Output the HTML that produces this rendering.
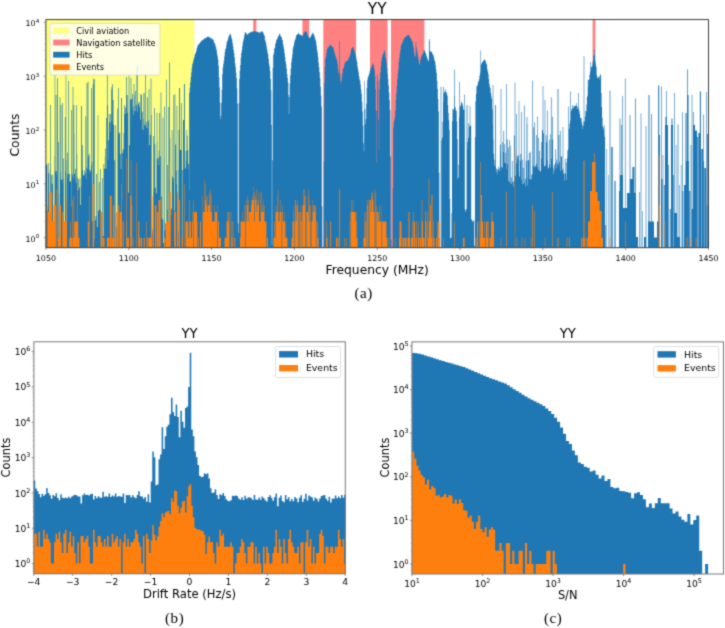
<!DOCTYPE html>
<html><head><meta charset="utf-8"><title>YY</title>
<style>html,body{margin:0;padding:0;background:#fff}svg{display:block;font-family:'DejaVu Sans','Liberation Sans',sans-serif;fill:#000}</style>
</head><body>
<svg width="725" height="628" viewBox="0 0 725 628">
<defs><filter id="soft" x="0" y="0" width="725" height="628" filterUnits="userSpaceOnUse" color-interpolation-filters="sRGB"><feConvolveMatrix order="3" kernelMatrix="1 3 1 3 14 3 1 3 1" divisor="30" edgeMode="duplicate" preserveAlpha="true"/></filter></defs>
<g filter="url(#soft)">
<rect width="725" height="628" fill="#fff"/>
<rect x="45.9" y="19.3" width="148.5" height="228.4" fill="#ffff80"/>
<rect x="253.2" y="19.3" width="3.2" height="228.4" fill="#ff8080"/>
<rect x="302.4" y="19.3" width="6.8" height="228.4" fill="#ff8080"/>
<rect x="323.3" y="19.3" width="32.8" height="228.4" fill="#ff8080"/>
<rect x="370" y="19.3" width="17.6" height="228.4" fill="#ff8080"/>
<rect x="391" y="19.3" width="33.4" height="228.4" fill="#ff8080"/>
<rect x="592.6" y="19.3" width="2.8" height="228.4" fill="#ff8080"/>
<clipPath id="ca"><rect x="45.9" y="19.3" width="662.6" height="228.4"/></clipPath>
<g clip-path="url(#ca)">
<path d="M188.68 189.88h0.65V247.7h-0.65zM189.18 92.73h0.65V247.7h-0.65zM189.68 87.4h0.65V247.7h-0.65zM190.18 82.36h0.65V247.7h-0.65zM190.68 77.08h0.65V247.7h-0.65zM191.18 72.4h0.65V247.7h-0.65zM191.68 68h0.65V247.7h-0.65zM192.18 64.27h0.65V247.7h-0.65zM192.68 62.72h0.65V247.7h-0.65zM193.18 60.53h0.65V247.7h-0.65zM193.68 58.76h0.65V247.7h-0.65zM194.18 56.83h0.65V247.7h-0.65zM194.68 54.17h0.65V247.7h-0.65zM195.18 53.63h0.65V247.7h-0.65zM195.68 51.98h0.65V247.7h-0.65zM196.18 50.47h0.65V247.7h-0.65zM196.68 47.99h0.65V247.7h-0.65zM197.18 46.47h0.65V247.7h-0.65zM197.68 45.35h0.65V247.7h-0.65zM198.18 44.48h0.65V247.7h-0.65zM198.68 44.2h0.65V247.7h-0.65zM199.18 43.42h0.65V247.7h-0.65zM199.68 43.05h0.65V247.7h-0.65zM200.18 41.9h0.65V247.7h-0.65zM200.68 41.7h0.65V247.7h-0.65zM201.18 41.11h0.65V247.7h-0.65zM201.68 40.01h0.65V247.7h-0.65zM202.18 40.63h0.65V247.7h-0.65zM202.68 39.83h0.65V247.7h-0.65zM203.18 39.83h0.65V247.7h-0.65zM203.68 38.73h0.65V247.7h-0.65zM204.18 38.39h0.65V247.7h-0.65zM204.68 38.29h0.65V247.7h-0.65zM205.18 38.11h0.65V247.7h-0.65zM205.68 38.16h0.65V247.7h-0.65zM206.18 37.7h0.65V247.7h-0.65zM206.68 37.11h0.65V247.7h-0.65zM207.18 36.59h0.65V247.7h-0.65zM207.68 36.51h0.65V247.7h-0.65zM208.18 37.32h0.65V247.7h-0.65zM208.68 36.75h0.65V247.7h-0.65zM209.18 37.56h0.65V247.7h-0.65zM209.68 37.98h0.65V247.7h-0.65zM210.18 37.46h0.65V247.7h-0.65zM210.68 38.49h0.65V247.7h-0.65zM211.18 39.4h0.65V247.7h-0.65zM211.68 38.24h0.65V247.7h-0.65zM212.18 39.35h0.65V247.7h-0.65zM212.68 39.78h0.65V247.7h-0.65zM213.18 40.3h0.65V247.7h-0.65zM213.68 42.22h0.65V247.7h-0.65zM214.18 43.31h0.65V247.7h-0.65zM214.68 44.01h0.65V247.7h-0.65zM215.18 46.37h0.65V247.7h-0.65zM215.68 47.63h0.65V247.7h-0.65zM216.18 50.05h0.65V247.7h-0.65zM216.68 53.52h0.65V247.7h-0.65zM217.18 56.29h0.65V247.7h-0.65zM217.68 59.43h0.65V247.7h-0.65zM218.18 65.77h0.65V247.7h-0.65zM218.68 77.35h0.65V247.7h-0.65zM219.18 87.51h0.65V247.7h-0.65zM219.68 102.7h0.65V247.7h-0.65zM220.18 119.33h0.65V247.7h-0.65zM220.68 115.81h0.65V247.7h-0.65zM221.18 102.8h0.65V247.7h-0.65zM221.68 89.69h0.65V247.7h-0.65zM222.18 74.26h0.65V247.7h-0.65zM222.68 67.54h0.65V247.7h-0.65zM223.18 64.31h0.65V247.7h-0.65zM223.68 60.85h0.65V247.7h-0.65zM224.18 56.46h0.65V247.7h-0.65zM224.68 52.26h0.65V247.7h-0.65zM225.18 49.29h0.65V247.7h-0.65zM225.68 47.89h0.65V247.7h-0.65zM226.18 44.71h0.65V247.7h-0.65zM226.68 41.84h0.65V247.7h-0.65zM227.18 40.74h0.65V247.7h-0.65zM227.68 39.4h0.65V247.7h-0.65zM228.18 37.57h0.65V247.7h-0.65zM228.68 36.21h0.65V247.7h-0.65zM229.18 34.9h0.65V247.7h-0.65zM229.68 34.02h0.65V247.7h-0.65zM230.18 33.96h0.65V247.7h-0.65zM230.68 36.08h0.65V247.7h-0.65zM231.18 38.26h0.65V247.7h-0.65zM231.68 39.48h0.65V247.7h-0.65zM232.18 42.93h0.65V247.7h-0.65zM232.68 46.23h0.65V247.7h-0.65zM233.18 50.04h0.65V247.7h-0.65zM233.68 52.91h0.65V247.7h-0.65zM234.18 57.51h0.65V247.7h-0.65zM234.68 62.88h0.65V247.7h-0.65zM235.18 66.68h0.65V247.7h-0.65zM235.68 72.42h0.65V247.7h-0.65zM236.18 77.96h0.65V247.7h-0.65zM236.68 88.27h0.65V247.7h-0.65zM237.18 103.68h0.65V247.7h-0.65zM237.68 223.58h0.65V247.7h-0.65zM238.18 232.93h0.65V247.7h-0.65zM238.68 103.15h0.65V247.7h-0.65zM239.18 79.04h0.65V247.7h-0.65zM239.68 70.68h0.65V247.7h-0.65zM240.18 64.89h0.65V247.7h-0.65zM240.68 57.83h0.65V247.7h-0.65zM241.18 53.06h0.65V247.7h-0.65zM241.68 50.22h0.65V247.7h-0.65zM242.18 46.26h0.65V247.7h-0.65zM242.68 42.35h0.65V247.7h-0.65zM243.18 40.3h0.65V247.7h-0.65zM243.68 38.28h0.65V247.7h-0.65zM244.18 35.17h0.65V247.7h-0.65zM244.68 32.5h0.65V247.7h-0.65zM245.18 32.31h0.65V247.7h-0.65zM245.68 33.06h0.65V247.7h-0.65zM246.18 33.74h0.65V247.7h-0.65zM246.68 35.26h0.65V247.7h-0.65zM247.18 34.29h0.65V247.7h-0.65zM247.68 34.82h0.65V247.7h-0.65zM248.18 33.18h0.65V247.7h-0.65zM248.68 32.9h0.65V247.7h-0.65zM249.18 33.03h0.65V247.7h-0.65zM249.68 32.76h0.65V247.7h-0.65zM250.18 32.34h0.65V247.7h-0.65zM250.68 32.01h0.65V247.7h-0.65zM251.18 31.81h0.65V247.7h-0.65zM251.68 31.72h0.65V247.7h-0.65zM252.18 31.81h0.65V247.7h-0.65zM252.68 31.37h0.65V247.7h-0.65zM253.18 31.47h0.65V247.7h-0.65zM253.68 31.51h0.65V247.7h-0.65zM254.18 31.15h0.65V247.7h-0.65zM254.68 31.39h0.65V247.7h-0.65zM255.18 31.35h0.65V247.7h-0.65zM255.68 32.2h0.65V247.7h-0.65zM256.18 31.65h0.65V247.7h-0.65zM256.68 31.51h0.65V247.7h-0.65zM257.18 31.73h0.65V247.7h-0.65zM257.68 32.09h0.65V247.7h-0.65zM258.18 32.72h0.65V247.7h-0.65zM258.68 32.35h0.65V247.7h-0.65zM259.18 32.87h0.65V247.7h-0.65zM259.68 33.73h0.65V247.7h-0.65zM260.18 31.6h0.65V247.7h-0.65zM260.68 31.74h0.65V247.7h-0.65zM261.18 31.86h0.65V247.7h-0.65zM261.68 31.43h0.65V247.7h-0.65zM262.18 31.61h0.65V247.7h-0.65zM262.68 32.31h0.65V247.7h-0.65zM263.18 33.79h0.65V247.7h-0.65zM263.68 34.63h0.65V247.7h-0.65zM264.18 36.02h0.65V247.7h-0.65zM264.68 39.84h0.65V247.7h-0.65zM265.18 41.41h0.65V247.7h-0.65zM265.68 43.5h0.65V247.7h-0.65zM266.18 46.46h0.65V247.7h-0.65zM266.68 49.4h0.65V247.7h-0.65zM267.18 52.47h0.65V247.7h-0.65zM267.68 54.27h0.65V247.7h-0.65zM268.18 58.78h0.65V247.7h-0.65zM268.68 63.45h0.65V247.7h-0.65zM269.18 66.47h0.65V247.7h-0.65zM269.68 70.97h0.65V247.7h-0.65zM270.18 79.05h0.65V247.7h-0.65zM270.68 90.26h0.65V247.7h-0.65zM271.18 125h0.65V247.7h-0.65zM271.68 245.23h0.65V247.7h-0.65zM272.18 160.34h0.65V247.7h-0.65zM272.68 67.7h0.65V247.7h-0.65zM273.18 55.03h0.65V247.7h-0.65zM273.68 52.74h0.65V247.7h-0.65zM274.18 48.54h0.65V247.7h-0.65zM274.68 47.74h0.65V247.7h-0.65zM275.18 44.1h0.65V247.7h-0.65zM275.68 42.56h0.65V247.7h-0.65zM276.18 39.77h0.65V247.7h-0.65zM276.68 39.4h0.65V247.7h-0.65zM277.18 38.74h0.65V247.7h-0.65zM277.68 37.02h0.65V247.7h-0.65zM278.18 36.06h0.65V247.7h-0.65zM278.68 35.21h0.65V247.7h-0.65zM279.18 33.8h0.65V247.7h-0.65zM279.68 34.11h0.65V247.7h-0.65zM280.18 35.92h0.65V247.7h-0.65zM280.68 36.78h0.65V247.7h-0.65zM281.18 37.25h0.65V247.7h-0.65zM281.68 39.7h0.65V247.7h-0.65zM282.18 39.98h0.65V247.7h-0.65zM282.68 43.91h0.65V247.7h-0.65zM283.18 46.38h0.65V247.7h-0.65zM283.68 49.56h0.65V247.7h-0.65zM284.18 53.32h0.65V247.7h-0.65zM284.68 57.1h0.65V247.7h-0.65zM285.18 61.29h0.65V247.7h-0.65zM285.68 64.31h0.65V247.7h-0.65zM286.18 68.57h0.65V247.7h-0.65zM286.68 74.03h0.65V247.7h-0.65zM287.18 77.82h0.65V247.7h-0.65zM287.68 82.29h0.65V247.7h-0.65zM288.18 95.05h0.65V247.7h-0.65zM288.68 113.9h0.65V247.7h-0.65zM289.18 97h0.65V247.7h-0.65zM289.68 83.52h0.65V247.7h-0.65zM290.18 75.29h0.65V247.7h-0.65zM290.68 68.57h0.65V247.7h-0.65zM291.18 62.24h0.65V247.7h-0.65zM291.68 58.59h0.65V247.7h-0.65zM292.18 54.47h0.65V247.7h-0.65zM292.68 48.85h0.65V247.7h-0.65zM293.18 46.79h0.65V247.7h-0.65zM293.68 44.69h0.65V247.7h-0.65zM294.18 42.34h0.65V247.7h-0.65zM294.68 39.7h0.65V247.7h-0.65zM295.18 39.38h0.65V247.7h-0.65zM295.68 36.87h0.65V247.7h-0.65zM296.18 35.35h0.65V247.7h-0.65zM296.68 35.05h0.65V247.7h-0.65zM297.18 34.31h0.65V247.7h-0.65zM297.68 34.05h0.65V247.7h-0.65zM298.18 32.73h0.65V247.7h-0.65zM298.68 34.07h0.65V247.7h-0.65zM299.18 34.61h0.65V247.7h-0.65zM299.68 34.97h0.65V247.7h-0.65zM300.18 34.61h0.65V247.7h-0.65zM300.68 34.73h0.65V247.7h-0.65zM301.18 35.9h0.65V247.7h-0.65zM301.68 35.86h0.65V247.7h-0.65zM302.18 35.71h0.65V247.7h-0.65zM302.68 35.6h0.65V247.7h-0.65zM303.18 34.15h0.65V247.7h-0.65zM303.68 32.54h0.65V247.7h-0.65zM304.18 32.7h0.65V247.7h-0.65zM304.68 31.35h0.65V247.7h-0.65zM305.18 31.85h0.65V247.7h-0.65zM305.68 31.45h0.65V247.7h-0.65zM306.18 32.06h0.65V247.7h-0.65zM306.68 33.36h0.65V247.7h-0.65zM307.18 34.77h0.65V247.7h-0.65zM307.68 35.46h0.65V247.7h-0.65zM308.18 37.05h0.65V247.7h-0.65zM308.68 37.46h0.65V247.7h-0.65zM309.18 38.16h0.65V247.7h-0.65zM309.68 37.73h0.65V247.7h-0.65zM310.18 37.16h0.65V247.7h-0.65zM310.68 35.51h0.65V247.7h-0.65zM311.18 35.58h0.65V247.7h-0.65zM311.68 33.72h0.65V247.7h-0.65zM312.18 33.45h0.65V247.7h-0.65zM312.68 32.43h0.65V247.7h-0.65zM313.18 34.25h0.65V247.7h-0.65zM313.68 34.75h0.65V247.7h-0.65zM314.18 36.84h0.65V247.7h-0.65zM314.68 38.3h0.65V247.7h-0.65zM315.18 39.91h0.65V247.7h-0.65zM315.68 41.78h0.65V247.7h-0.65zM316.18 45.66h0.65V247.7h-0.65zM316.68 49.86h0.65V247.7h-0.65zM317.18 52.57h0.65V247.7h-0.65zM317.68 56.86h0.65V247.7h-0.65zM318.18 62.49h0.65V247.7h-0.65zM318.68 67.37h0.65V247.7h-0.65zM319.18 72.31h0.65V247.7h-0.65zM319.68 78.04h0.65V247.7h-0.65zM320.18 86.66h0.65V247.7h-0.65zM320.68 95.79h0.65V247.7h-0.65zM321.18 106.62h0.65V247.7h-0.65zM321.68 206.35h0.65V247.7h-0.65zM322.18 247.36h0.65V247.7h-0.65zM322.68 247h0.65V247.7h-0.65zM323.18 247.36h0.65V247.7h-0.65zM323.68 161.45h0.65V247.7h-0.65zM324.18 83.22h0.65V247.7h-0.65zM324.68 67.08h0.65V247.7h-0.65zM325.18 59.21h0.65V247.7h-0.65zM325.68 56.92h0.65V247.7h-0.65zM326.18 53.25h0.65V247.7h-0.65zM326.68 50.09h0.65V247.7h-0.65zM327.18 48.32h0.65V247.7h-0.65zM327.68 47.31h0.65V247.7h-0.65zM328.18 47.28h0.65V247.7h-0.65zM328.68 46.14h0.65V247.7h-0.65zM329.18 46.16h0.65V247.7h-0.65zM329.68 44.27h0.65V247.7h-0.65zM330.18 45.4h0.65V247.7h-0.65zM330.68 45.46h0.65V247.7h-0.65zM331.18 45.38h0.65V247.7h-0.65zM331.68 47.08h0.65V247.7h-0.65zM332.18 47.13h0.65V247.7h-0.65zM332.68 46.75h0.65V247.7h-0.65zM333.18 48.48h0.65V247.7h-0.65zM333.68 50.76h0.65V247.7h-0.65zM334.18 52.17h0.65V247.7h-0.65zM334.68 54.48h0.65V247.7h-0.65zM335.18 56.09h0.65V247.7h-0.65zM335.68 57.55h0.65V247.7h-0.65zM336.18 58.9h0.65V247.7h-0.65zM336.68 60.85h0.65V247.7h-0.65zM337.18 63.8h0.65V247.7h-0.65zM337.68 68.7h0.65V247.7h-0.65zM338.18 72.56h0.65V247.7h-0.65zM338.68 76.72h0.65V247.7h-0.65zM339.18 72.42h0.65V247.7h-0.65zM339.68 73.37h0.65V247.7h-0.65zM340.18 81.29h0.65V247.7h-0.65zM340.68 84.04h0.65V247.7h-0.65zM341.18 80.89h0.65V247.7h-0.65zM341.68 77.25h0.65V247.7h-0.65zM342.18 73.48h0.65V247.7h-0.65zM342.68 69.37h0.65V247.7h-0.65zM343.18 68.37h0.65V247.7h-0.65zM343.68 67.18h0.65V247.7h-0.65zM344.18 64.54h0.65V247.7h-0.65zM344.68 63.12h0.65V247.7h-0.65zM345.18 62.24h0.65V247.7h-0.65zM345.68 61.09h0.65V247.7h-0.65zM346.18 61.13h0.65V247.7h-0.65zM346.68 60.97h0.65V247.7h-0.65zM347.18 60.87h0.65V247.7h-0.65zM347.68 60.15h0.65V247.7h-0.65zM348.18 59.29h0.65V247.7h-0.65zM348.68 57.67h0.65V247.7h-0.65zM349.18 56.71h0.65V247.7h-0.65zM349.68 56.03h0.65V247.7h-0.65zM350.18 53.92h0.65V247.7h-0.65zM350.68 51.24h0.65V247.7h-0.65zM351.18 49h0.65V247.7h-0.65zM351.68 48.33h0.65V247.7h-0.65zM352.18 47.03h0.65V247.7h-0.65zM352.68 47.85h0.65V247.7h-0.65zM353.18 47.44h0.65V247.7h-0.65zM353.68 49.93h0.65V247.7h-0.65zM354.18 50.9h0.65V247.7h-0.65zM354.68 53.29h0.65V247.7h-0.65zM355.18 54.91h0.65V247.7h-0.65zM355.68 56.88h0.65V247.7h-0.65zM356.18 59.86h0.65V247.7h-0.65zM356.68 62h0.65V247.7h-0.65zM357.18 66.59h0.65V247.7h-0.65zM357.68 69.52h0.65V247.7h-0.65zM358.18 72.18h0.65V247.7h-0.65zM358.68 76.1h0.65V247.7h-0.65zM359.18 79.31h0.65V247.7h-0.65zM359.68 80.87h0.65V247.7h-0.65zM360.18 84.84h0.65V247.7h-0.65zM360.68 89.56h0.65V247.7h-0.65zM361.18 93.8h0.65V247.7h-0.65zM361.68 101.82h0.65V247.7h-0.65zM362.18 111.56h0.65V247.7h-0.65zM362.68 125.45h0.65V247.7h-0.65zM363.18 143.3h0.65V247.7h-0.65zM363.68 151.46h0.65V247.7h-0.65zM364.18 139.56h0.65V247.7h-0.65zM364.68 109.27h0.65V247.7h-0.65zM365.18 124.45h0.65V247.7h-0.65zM365.68 119.32h0.65V247.7h-0.65zM366.18 103.86h0.65V247.7h-0.65zM366.68 88.11h0.65V247.7h-0.65zM367.18 80.24h0.65V247.7h-0.65zM367.68 77.4h0.65V247.7h-0.65zM368.18 76.29h0.65V247.7h-0.65zM368.68 74.85h0.65V247.7h-0.65zM369.18 73.36h0.65V247.7h-0.65zM369.68 71.05h0.65V247.7h-0.65zM370.18 69.57h0.65V247.7h-0.65zM370.68 68.08h0.65V247.7h-0.65zM371.18 66.67h0.65V247.7h-0.65zM371.68 65.79h0.65V247.7h-0.65zM372.18 64.59h0.65V247.7h-0.65zM372.68 63.35h0.65V247.7h-0.65zM373.18 64.92h0.65V247.7h-0.65zM373.68 67.71h0.65V247.7h-0.65zM374.18 70.44h0.65V247.7h-0.65zM374.68 76.4h0.65V247.7h-0.65zM375.18 88.95h0.65V247.7h-0.65zM375.68 110.45h0.65V247.7h-0.65zM376.18 163.07h0.65V247.7h-0.65zM376.68 111.12h0.65V247.7h-0.65zM377.18 74.48h0.65V247.7h-0.65zM377.68 80.94h0.65V247.7h-0.65zM378.18 119.43h0.65V247.7h-0.65zM378.68 150.19h0.65V247.7h-0.65zM379.18 89.35h0.65V247.7h-0.65zM379.68 79.27h0.65V247.7h-0.65zM380.18 72.56h0.65V247.7h-0.65zM380.68 66.42h0.65V247.7h-0.65zM381.18 61.14h0.65V247.7h-0.65zM381.68 57.86h0.65V247.7h-0.65zM382.18 55.88h0.65V247.7h-0.65zM382.68 53.88h0.65V247.7h-0.65zM383.18 53.63h0.65V247.7h-0.65zM383.68 51.81h0.65V247.7h-0.65zM384.18 50.12h0.65V247.7h-0.65zM384.68 52.72h0.65V247.7h-0.65zM385.18 57.02h0.65V247.7h-0.65zM385.68 59.27h0.65V247.7h-0.65zM386.18 62.88h0.65V247.7h-0.65zM386.68 68.16h0.65V247.7h-0.65zM387.18 73.73h0.65V247.7h-0.65zM387.68 79.15h0.65V247.7h-0.65zM388.18 85.44h0.65V247.7h-0.65zM388.68 92.45h0.65V247.7h-0.65zM389.18 100.32h0.65V247.7h-0.65zM389.68 109.99h0.65V247.7h-0.65zM390.18 156.52h0.65V247.7h-0.65zM390.68 239.49h0.65V247.7h-0.65zM392.18 246.51h0.65V247.7h-0.65zM392.68 188.43h0.65V247.7h-0.65zM393.18 127.41h0.65V247.7h-0.65zM393.68 122.01h0.65V247.7h-0.65zM394.18 119.77h0.65V247.7h-0.65zM394.68 116.7h0.65V247.7h-0.65zM395.18 110.41h0.65V247.7h-0.65zM395.68 99.9h0.65V247.7h-0.65zM396.18 93.02h0.65V247.7h-0.65zM396.68 86.18h0.65V247.7h-0.65zM397.18 79.28h0.65V247.7h-0.65zM397.68 73.33h0.65V247.7h-0.65zM398.18 68.74h0.65V247.7h-0.65zM398.68 61.7h0.65V247.7h-0.65zM399.18 57.64h0.65V247.7h-0.65zM399.68 54.19h0.65V247.7h-0.65zM400.18 50.25h0.65V247.7h-0.65zM400.68 46.22h0.65V247.7h-0.65zM401.18 44.5h0.65V247.7h-0.65zM401.68 43.41h0.65V247.7h-0.65zM402.18 42.59h0.65V247.7h-0.65zM402.68 41.27h0.65V247.7h-0.65zM403.18 39.76h0.65V247.7h-0.65zM403.68 38.97h0.65V247.7h-0.65zM404.18 38.06h0.65V247.7h-0.65zM404.68 37.53h0.65V247.7h-0.65zM405.18 37.09h0.65V247.7h-0.65zM405.68 36.58h0.65V247.7h-0.65zM406.18 36.62h0.65V247.7h-0.65zM406.68 35.46h0.65V247.7h-0.65zM407.18 35.28h0.65V247.7h-0.65zM407.68 35.19h0.65V247.7h-0.65zM408.18 34.67h0.65V247.7h-0.65zM408.68 35.8h0.65V247.7h-0.65zM409.18 35.76h0.65V247.7h-0.65zM409.68 37.03h0.65V247.7h-0.65zM410.18 38.26h0.65V247.7h-0.65zM410.68 38.92h0.65V247.7h-0.65zM411.18 39.73h0.65V247.7h-0.65zM411.68 41.15h0.65V247.7h-0.65zM412.18 42.11h0.65V247.7h-0.65zM412.68 45.07h0.65V247.7h-0.65zM413.18 47.38h0.65V247.7h-0.65zM413.68 51.92h0.65V247.7h-0.65zM414.18 55.32h0.65V247.7h-0.65zM414.68 56.92h0.65V247.7h-0.65zM415.18 56.18h0.65V247.7h-0.65zM415.68 51.73h0.65V247.7h-0.65zM416.18 47.42h0.65V247.7h-0.65zM416.68 50.6h0.65V247.7h-0.65zM417.18 53.52h0.65V247.7h-0.65zM417.68 56.57h0.65V247.7h-0.65zM418.18 59.78h0.65V247.7h-0.65zM418.68 64.04h0.65V247.7h-0.65zM419.18 65.27h0.65V247.7h-0.65zM419.68 62.97h0.65V247.7h-0.65zM420.18 60.12h0.65V247.7h-0.65zM420.68 58.26h0.65V247.7h-0.65zM421.18 56.53h0.65V247.7h-0.65zM421.68 55.54h0.65V247.7h-0.65zM422.18 54.4h0.65V247.7h-0.65zM422.68 53.59h0.65V247.7h-0.65zM423.18 52.27h0.65V247.7h-0.65zM423.68 49.99h0.65V247.7h-0.65zM424.18 50.4h0.65V247.7h-0.65zM424.68 51.4h0.65V247.7h-0.65zM425.18 52.64h0.65V247.7h-0.65zM425.68 54.34h0.65V247.7h-0.65zM426.18 55.88h0.65V247.7h-0.65zM426.68 57.85h0.65V247.7h-0.65zM427.18 58.66h0.65V247.7h-0.65zM427.68 60.57h0.65V247.7h-0.65zM428.18 61.43h0.65V247.7h-0.65zM428.68 60.24h0.65V247.7h-0.65zM429.18 41.03h0.65V247.7h-0.65zM429.68 51.8h0.65V247.7h-0.65zM430.18 51.16h0.65V247.7h-0.65zM430.68 51.48h0.65V247.7h-0.65zM431.18 51.78h0.65V247.7h-0.65zM431.68 52.84h0.65V247.7h-0.65zM432.18 53.82h0.65V247.7h-0.65zM432.68 55.3h0.65V247.7h-0.65zM433.18 55.65h0.65V247.7h-0.65zM433.68 58.18h0.65V247.7h-0.65zM434.18 60.39h0.65V247.7h-0.65zM434.68 61.45h0.65V247.7h-0.65zM435.18 65.23h0.65V247.7h-0.65zM435.68 69.49h0.65V247.7h-0.65zM436.18 73.09h0.65V247.7h-0.65zM436.68 80.72h0.65V247.7h-0.65zM437.18 89.03h0.65V247.7h-0.65zM437.68 98.96h0.65V247.7h-0.65zM438.18 111.53h0.65V247.7h-0.65zM438.68 172.73h0.65V247.7h-0.65zM45.9 163.74h0.66V247.7h-0.66zM46.56 164.95h0.66V247.7h-0.66zM47.23 210.45h0.66V247.7h-0.66zM47.89 163.12h0.66V247.7h-0.66zM48.55 173.17h0.66V247.7h-0.66zM49.21 246.57h0.66V247.7h-0.66zM49.88 169.81h0.66V247.7h-0.66zM51.2 175.01h0.66V247.7h-0.66zM51.86 183.68h0.66V247.7h-0.66zM52.53 174.55h0.66V247.7h-0.66zM53.19 223.96h0.66V247.7h-0.66zM53.85 234.28h0.66V247.7h-0.66zM54.51 156.25h0.66V247.7h-0.66zM55.18 171.22h0.66V247.7h-0.66zM55.84 171.12h0.66V247.7h-0.66zM56.5 174.61h0.66V247.7h-0.66zM57.16 197.09h0.66V247.7h-0.66zM57.83 241.47h0.66V247.7h-0.66zM58.49 193.39h0.66V247.7h-0.66zM59.15 212.36h0.66V247.7h-0.66zM59.81 178.67h0.66V247.7h-0.66zM60.48 172.14h0.66V247.7h-0.66zM61.14 180.07h0.66V247.7h-0.66zM61.8 180.2h0.66V247.7h-0.66zM62.46 178.64h0.66V247.7h-0.66zM63.13 183.24h0.66V247.7h-0.66zM63.79 231h0.66V247.7h-0.66zM64.45 246.96h0.66V247.7h-0.66zM65.11 171.22h0.66V247.7h-0.66zM65.78 160.56h0.66V247.7h-0.66zM66.44 232.07h0.66V247.7h-0.66zM67.1 177.18h0.66V247.7h-0.66zM67.76 173.95h0.66V247.7h-0.66zM68.42 99.13h0.66V247.7h-0.66zM69.09 173.63h0.66V247.7h-0.66zM69.75 181.96h0.66V247.7h-0.66zM70.41 181.1h0.66V247.7h-0.66zM71.07 206.51h0.66V247.7h-0.66zM71.74 173.73h0.66V247.7h-0.66zM72.4 176.18h0.66V247.7h-0.66zM73.06 179.58h0.66V247.7h-0.66zM73.72 134.03h0.66V247.7h-0.66zM74.39 173.7h0.66V247.7h-0.66zM75.05 178.15h0.66V247.7h-0.66zM75.71 183.04h0.66V247.7h-0.66zM76.37 181.91h0.66V247.7h-0.66zM77.04 177.41h0.66V247.7h-0.66zM77.7 190.36h0.66V247.7h-0.66zM78.36 179.27h0.66V247.7h-0.66zM79.02 187.44h0.66V247.7h-0.66zM79.69 178.17h0.66V247.7h-0.66zM80.35 205.07h0.66V247.7h-0.66zM81.01 186.43h0.66V247.7h-0.66zM81.67 170.16h0.66V247.7h-0.66zM82.34 145.24h0.66V247.7h-0.66zM83 174.69h0.66V247.7h-0.66zM83.66 175.66h0.66V247.7h-0.66zM84.32 170.53h0.66V247.7h-0.66zM84.99 173.19h0.66V247.7h-0.66zM85.65 179.55h0.66V247.7h-0.66zM86.31 167.55h0.66V247.7h-0.66zM86.97 169.05h0.66V247.7h-0.66zM87.64 158.93h0.66V247.7h-0.66zM88.3 156.08h0.66V247.7h-0.66zM88.96 173.61h0.66V247.7h-0.66zM89.62 169.82h0.66V247.7h-0.66zM90.29 171.27h0.66V247.7h-0.66zM90.95 165.3h0.66V247.7h-0.66zM91.61 161.73h0.66V247.7h-0.66zM92.27 221.36h0.66V247.7h-0.66zM92.94 217.27h0.66V247.7h-0.66zM93.6 239.3h0.66V247.7h-0.66zM94.26 216.54h0.66V247.7h-0.66zM94.92 220.26h0.66V247.7h-0.66zM95.59 215.92h0.66V247.7h-0.66zM96.25 174.09h0.66V247.7h-0.66zM96.91 227.08h0.66V247.7h-0.66zM97.57 172.8h0.66V247.7h-0.66zM98.24 210.63h0.66V247.7h-0.66zM98.9 182.23h0.66V247.7h-0.66zM99.56 209.86h0.66V247.7h-0.66zM100.22 168.95h0.66V247.7h-0.66zM100.89 236.73h0.66V247.7h-0.66zM101.55 246.47h0.66V247.7h-0.66zM102.21 178h0.66V247.7h-0.66zM102.87 235.89h0.66V247.7h-0.66zM103.54 163.89h0.66V247.7h-0.66zM104.2 168.84h0.66V247.7h-0.66zM104.86 156.42h0.66V247.7h-0.66zM105.52 168.41h0.66V247.7h-0.66zM106.19 117.95h0.66V247.7h-0.66zM106.85 168.9h0.66V247.7h-0.66zM107.51 160.08h0.66V247.7h-0.66zM108.17 152.24h0.66V247.7h-0.66zM108.84 114.09h0.66V247.7h-0.66zM109.5 122.41h0.66V247.7h-0.66zM110.16 131.71h0.66V247.7h-0.66zM110.82 121.31h0.66V247.7h-0.66zM111.49 142.51h0.66V247.7h-0.66zM112.15 122.37h0.66V247.7h-0.66zM112.81 100.06h0.66V247.7h-0.66zM113.47 124.73h0.66V247.7h-0.66zM114.14 160.18h0.66V247.7h-0.66zM115.46 214.12h0.66V247.7h-0.66zM116.12 226.46h0.66V247.7h-0.66zM116.79 213.21h0.66V247.7h-0.66zM117.45 108.61h0.66V247.7h-0.66zM118.11 131.94h0.66V247.7h-0.66zM118.77 133.85h0.66V247.7h-0.66zM119.44 132.2h0.66V247.7h-0.66zM120.1 154.12h0.66V247.7h-0.66zM120.76 169.12h0.66V247.7h-0.66zM121.42 199.79h0.66V247.7h-0.66zM122.09 153.27h0.66V247.7h-0.66zM122.75 148.97h0.66V247.7h-0.66zM123.41 151.48h0.66V247.7h-0.66zM124.07 105.15h0.66V247.7h-0.66zM124.74 113.97h0.66V247.7h-0.66zM125.4 107.41h0.66V247.7h-0.66zM126.06 110.19h0.66V247.7h-0.66zM126.72 105.04h0.66V247.7h-0.66zM127.39 112.65h0.66V247.7h-0.66zM128.05 192.72h0.66V247.7h-0.66zM128.71 103.25h0.66V247.7h-0.66zM129.37 145.34h0.66V247.7h-0.66zM130.04 99.21h0.66V247.7h-0.66zM130.7 107.39h0.66V247.7h-0.66zM131.36 125.25h0.66V247.7h-0.66zM132.02 109.74h0.66V247.7h-0.66zM132.69 106.33h0.66V247.7h-0.66zM133.35 115.09h0.66V247.7h-0.66zM134.01 106.98h0.66V247.7h-0.66zM134.67 111.2h0.66V247.7h-0.66zM135.34 105.05h0.66V247.7h-0.66zM136 104.75h0.66V247.7h-0.66zM136.66 106.71h0.66V247.7h-0.66zM137.32 111.61h0.66V247.7h-0.66zM137.99 103.99h0.66V247.7h-0.66zM138.65 113.35h0.66V247.7h-0.66zM139.31 106.54h0.66V247.7h-0.66zM139.97 119.85h0.66V247.7h-0.66zM140.64 113.17h0.66V247.7h-0.66zM141.3 95.12h0.66V247.7h-0.66zM141.96 111.51h0.66V247.7h-0.66zM142.62 129.71h0.66V247.7h-0.66zM143.29 118.96h0.66V247.7h-0.66zM143.95 124.71h0.66V247.7h-0.66zM144.61 125.37h0.66V247.7h-0.66zM145.27 121.55h0.66V247.7h-0.66zM145.94 122.05h0.66V247.7h-0.66zM146.6 127.91h0.66V247.7h-0.66zM147.26 97.35h0.66V247.7h-0.66zM147.92 131.39h0.66V247.7h-0.66zM148.59 147.68h0.66V247.7h-0.66zM149.25 145.05h0.66V247.7h-0.66zM149.91 134.97h0.66V247.7h-0.66zM150.57 131.22h0.66V247.7h-0.66zM151.24 240.03h0.66V247.7h-0.66zM151.9 228.55h0.66V247.7h-0.66zM152.56 232.59h0.66V247.7h-0.66zM153.22 230.42h0.66V247.7h-0.66zM153.89 188.79h0.66V247.7h-0.66zM154.55 162.97h0.66V247.7h-0.66zM155.21 187.68h0.66V247.7h-0.66zM155.87 193.42h0.66V247.7h-0.66zM156.54 158.55h0.66V247.7h-0.66zM157.2 159.14h0.66V247.7h-0.66zM157.86 157.79h0.66V247.7h-0.66zM158.52 165.29h0.66V247.7h-0.66zM159.19 164.93h0.66V247.7h-0.66zM159.85 156.18h0.66V247.7h-0.66zM160.51 208.78h0.66V247.7h-0.66zM161.17 196.61h0.66V247.7h-0.66zM161.84 218.72h0.66V247.7h-0.66zM162.5 220.35h0.66V247.7h-0.66zM163.16 242.88h0.66V247.7h-0.66zM163.82 220.02h0.66V247.7h-0.66zM164.49 230.47h0.66V247.7h-0.66zM165.15 223.15h0.66V247.7h-0.66zM166.47 244.36h0.66V247.7h-0.66zM167.14 209.59h0.66V247.7h-0.66zM167.8 247h0.66V247.7h-0.66zM168.46 106.96h0.66V247.7h-0.66zM169.12 179.14h0.66V247.7h-0.66zM169.79 209.11h0.66V247.7h-0.66zM170.45 214.91h0.66V247.7h-0.66zM171.11 208.72h0.66V247.7h-0.66zM171.77 183.26h0.66V247.7h-0.66zM172.44 176.64h0.66V247.7h-0.66zM173.1 178.66h0.66V247.7h-0.66zM173.76 234.82h0.66V247.7h-0.66zM174.42 210.78h0.66V247.7h-0.66zM175.09 208.32h0.66V247.7h-0.66zM175.75 170.64h0.66V247.7h-0.66zM176.41 184.14h0.66V247.7h-0.66zM177.07 205.69h0.66V247.7h-0.66zM177.74 231.38h0.66V247.7h-0.66zM178.4 169.68h0.66V247.7h-0.66zM179.06 228.08h0.66V247.7h-0.66zM179.72 159.48h0.66V247.7h-0.66zM180.39 171.6h0.66V247.7h-0.66zM181.05 209.83h0.66V247.7h-0.66zM182.37 170.04h0.66V247.7h-0.66zM183.04 169.91h0.66V247.7h-0.66zM183.7 218.27h0.66V247.7h-0.66zM184.36 167.75h0.66V247.7h-0.66zM185.02 168.45h0.66V247.7h-0.66zM185.69 167.63h0.66V247.7h-0.66zM186.35 161.29h0.66V247.7h-0.66zM187.01 163.2h0.66V247.7h-0.66zM187.67 169.47h0.66V247.7h-0.66zM188.34 164.07h0.66V247.7h-0.66zM50.15 163.95h0.65V247.7h-0.65zM57.16 78.16h0.65V247.7h-0.65zM58.31 141.97h0.65V247.7h-0.65zM59.7 97.31h0.65V247.7h-0.65zM63.04 158.58h0.65V247.7h-0.65zM64.87 117.08h0.65V247.7h-0.65zM66.95 152.55h0.65V247.7h-0.65zM68.41 81.05h0.65V247.7h-0.65zM73.55 105.04h0.65V247.7h-0.65zM75.19 168.64h0.65V247.7h-0.65zM76.57 154.65h0.65V247.7h-0.65zM85.46 116.29h0.65V247.7h-0.65zM87.71 81.74h0.65V247.7h-0.65zM88.83 153.9h0.65V247.7h-0.65zM92.82 84.17h0.65V247.7h-0.65zM94.31 79.13h0.65V247.7h-0.65zM105.08 148.45h0.65V247.7h-0.65zM106.93 75h0.65V247.7h-0.65zM108.2 140.36h0.65V247.7h-0.65zM110.41 114.05h0.65V247.7h-0.65zM111.55 87.08h0.65V247.7h-0.65zM115.39 125.37h0.65V247.7h-0.65zM123.62 132.9h0.65V247.7h-0.65zM130.37 99.41h0.65V247.7h-0.65zM132.38 93.72h0.65V247.7h-0.65zM133.99 94.47h0.65V247.7h-0.65zM136.97 66h0.65V247.7h-0.65zM140.51 93.84h0.65V247.7h-0.65zM145.4 74.28h0.65V247.7h-0.65zM147.91 120.76h0.65V247.7h-0.65zM151.03 115.12h0.65V247.7h-0.65zM153.09 136.04h0.65V247.7h-0.65zM154.6 144.27h0.65V247.7h-0.65zM156.84 141.47h0.65V247.7h-0.65zM158.78 150.53h0.65V247.7h-0.65zM160.64 92.46h0.65V247.7h-0.65zM162.58 117.72h0.65V247.7h-0.65zM164.1 148.61h0.65V247.7h-0.65zM166.27 79.74h0.65V247.7h-0.65zM167.4 164.95h0.65V247.7h-0.65zM169.58 138.2h0.65V247.7h-0.65zM171.74 129.92h0.65V247.7h-0.65zM173.48 95.18h0.65V247.7h-0.65zM175.36 144.38h0.65V247.7h-0.65zM176.64 105.96h0.65V247.7h-0.65zM178.64 130.06h0.65V247.7h-0.65zM180.66 156.56h0.65V247.7h-0.65zM183.7 140.22h0.65V247.7h-0.65zM185.65 150.94h0.65V247.7h-0.65zM186.93 136.01h0.65V247.7h-0.65zM50.07 105h0.65V247.7h-0.65zM54.74 74h0.52V247.7h-0.52zM54.85 95h0.7V247.7h-0.7zM56.67 95h0.65V247.7h-0.65zM60.67 105h0.65V247.7h-0.65zM62.07 103h0.65V247.7h-0.65zM65.74 71h0.52V247.7h-0.52zM71.27 110h0.65V247.7h-0.65zM72.67 87h0.65V247.7h-0.65zM76.27 105h0.65V247.7h-0.65zM81.2 106h0.8V247.7h-0.8zM86.67 83h0.65V247.7h-0.65zM91.27 88h0.65V247.7h-0.65zM93.27 78.6h0.65V247.7h-0.65zM97.74 115h0.52V247.7h-0.52zM107.27 105h0.65V247.7h-0.65zM111.27 90h0.65V247.7h-0.65zM112.08 84h0.65V247.7h-0.65zM118.08 88h0.65V247.7h-0.65zM121.2 98h0.8V247.7h-0.8zM126.08 77h0.65V247.7h-0.65zM126.8 95h0.8V247.7h-0.8zM128.68 76h0.65V247.7h-0.65zM130.68 78h0.65V247.7h-0.65zM131.4 99h0.8V247.7h-0.8zM133.68 84h0.65V247.7h-0.65zM136.41 68h0.39V247.7h-0.39zM135.3 91h0.6V247.7h-0.6zM138.55 102h0.9V247.7h-0.9zM143.55 93h0.9V247.7h-0.9zM148.68 89h0.65V247.7h-0.65zM150.68 78.6h0.65V247.7h-0.65zM154.08 108h0.65V247.7h-0.65zM156.68 113h0.65V247.7h-0.65zM159.08 113h0.65V247.7h-0.65zM164.08 106.6h0.65V247.7h-0.65zM169.28 62.6h0.65V247.7h-0.65zM174.7 94h0.6V247.7h-0.6zM179.15 88h0.9V247.7h-0.9zM181.28 103h0.65V247.7h-0.65zM183.95 84h0.9V247.7h-0.9zM180 150h1.6V247.7h-1.6zM183 120h1.8V247.7h-1.8zM185 185h1V247.7h-1zM186.5 130h0.6V247.7h-0.6zM187.53 150h0.65V247.7h-0.65zM441.53 140.3h0.65V247.7h-0.65zM442.03 137.54h0.65V247.7h-0.65zM442.53 121.73h0.65V247.7h-0.65zM443.03 101.78h0.65V247.7h-0.65zM443.53 93.42h0.65V247.7h-0.65zM444.03 91.4h0.65V247.7h-0.65zM444.53 92.59h0.65V247.7h-0.65zM445.03 91.86h0.65V247.7h-0.65zM445.53 89.21h0.65V247.7h-0.65zM446.03 94.48h0.65V247.7h-0.65zM446.53 92.59h0.65V247.7h-0.65zM447.03 95.66h0.65V247.7h-0.65zM447.53 104.9h0.65V247.7h-0.65zM448.03 112.9h0.65V247.7h-0.65zM448.53 120.35h0.65V247.7h-0.65zM449.03 129.78h0.65V247.7h-0.65zM449.53 199.1h0.65V247.7h-0.65zM450.03 238.24h0.65V247.7h-0.65zM450.53 238.28h0.65V247.7h-0.65zM451.03 237.28h0.65V247.7h-0.65zM451.53 213.26h0.65V247.7h-0.65zM452.03 121.15h0.65V247.7h-0.65zM452.53 108.89h0.65V247.7h-0.65zM453.03 110.19h0.65V247.7h-0.65zM453.53 108.96h0.65V247.7h-0.65zM454.03 109.29h0.65V247.7h-0.65zM454.53 107.54h0.65V247.7h-0.65zM455.03 107.25h0.65V247.7h-0.65zM455.53 110.46h0.65V247.7h-0.65zM456.03 110.71h0.65V247.7h-0.65zM456.53 121.28h0.65V247.7h-0.65zM457.03 139.16h0.65V247.7h-0.65zM457.53 178.99h0.65V247.7h-0.65zM458.03 177.64h0.65V247.7h-0.65zM458.53 164.78h0.65V247.7h-0.65zM459.03 117.23h0.65V247.7h-0.65zM459.53 111.64h0.65V247.7h-0.65zM460.03 106.47h0.65V247.7h-0.65zM460.53 105.22h0.65V247.7h-0.65zM461.03 101.58h0.65V247.7h-0.65zM461.53 103.04h0.65V247.7h-0.65zM462.03 103.82h0.65V247.7h-0.65zM462.53 106.09h0.65V247.7h-0.65zM463.03 109.16h0.65V247.7h-0.65zM463.53 110.09h0.65V247.7h-0.65zM464.03 123.87h0.65V247.7h-0.65zM464.53 209.01h0.65V247.7h-0.65zM465.03 212.1h0.65V247.7h-0.65zM465.53 210.58h0.65V247.7h-0.65zM466.03 209.22h0.65V247.7h-0.65zM466.53 211h0.65V247.7h-0.65zM467.03 149.28h0.65V247.7h-0.65zM467.53 142.01h0.65V247.7h-0.65zM468.03 138h0.65V247.7h-0.65zM468.53 123.57h0.65V247.7h-0.65zM469.03 126.68h0.65V247.7h-0.65zM469.53 126.79h0.65V247.7h-0.65zM470.03 126.11h0.65V247.7h-0.65zM470.53 125.6h0.65V247.7h-0.65zM471.03 219.14h0.65V247.7h-0.65zM471.53 219.85h0.65V247.7h-0.65zM472.03 221.97h0.65V247.7h-0.65zM472.53 221.36h0.65V247.7h-0.65zM473.03 220.94h0.65V247.7h-0.65zM473.53 220.26h0.65V247.7h-0.65zM474.03 245.79h0.65V247.7h-0.65zM474.53 246.61h0.65V247.7h-0.65zM440.68 86.8h0.65V247.7h-0.65zM443.21 86.8h0.59V247.7h-0.59zM454.11 69.6h0.59V247.7h-0.59zM454 96h0.8V247.7h-0.8zM459.31 81.7h0.59V247.7h-0.59zM464.21 94.4h0.59V247.7h-0.59zM466.6 105h0.8V247.7h-0.8zM469.71 106h0.59V247.7h-0.59zM437.74 105h0.52V247.7h-0.52zM339.11 41h0.59V247.7h-0.59zM364.14 81h0.52V247.7h-0.52zM415.68 42h0.65V247.7h-0.65zM428.91 39h0.59V247.7h-0.59zM474.93 137.21h0.65V247.7h-0.65zM475.43 101.36h0.65V247.7h-0.65zM475.93 94.12h0.65V247.7h-0.65zM476.43 86.39h0.65V247.7h-0.65zM476.93 85.71h0.65V247.7h-0.65zM477.43 84.75h0.65V247.7h-0.65zM477.93 82.28h0.65V247.7h-0.65zM478.43 80.9h0.65V247.7h-0.65zM478.93 79.27h0.65V247.7h-0.65zM479.43 75.78h0.65V247.7h-0.65zM479.93 72.83h0.65V247.7h-0.65zM480.43 69.78h0.65V247.7h-0.65zM480.93 64.74h0.65V247.7h-0.65zM481.43 63.52h0.65V247.7h-0.65zM481.93 61.9h0.65V247.7h-0.65zM482.43 62.05h0.65V247.7h-0.65zM482.93 60.39h0.65V247.7h-0.65zM483.43 61.37h0.65V247.7h-0.65zM483.93 59.39h0.65V247.7h-0.65zM484.43 59.65h0.65V247.7h-0.65zM484.93 60.36h0.65V247.7h-0.65zM485.43 61.64h0.65V247.7h-0.65zM485.93 63.69h0.65V247.7h-0.65zM486.43 64.53h0.65V247.7h-0.65zM486.93 69.36h0.65V247.7h-0.65zM487.43 71.52h0.65V247.7h-0.65zM487.93 73.94h0.65V247.7h-0.65zM488.43 78.92h0.65V247.7h-0.65zM488.93 83.85h0.65V247.7h-0.65zM489.43 86.85h0.65V247.7h-0.65zM489.93 88.16h0.65V247.7h-0.65zM490.43 92.67h0.65V247.7h-0.65zM490.93 95.86h0.65V247.7h-0.65zM491.43 98.88h0.65V247.7h-0.65zM491.93 109.29h0.65V247.7h-0.65zM492.43 124.86h0.65V247.7h-0.65zM492.93 139.61h0.65V247.7h-0.65zM493.43 153.86h0.65V247.7h-0.65zM480.34 50.6h0.52V247.7h-0.52zM492.73 85h0.59V247.7h-0.59zM493.93 159.87h0.65V247.7h-0.65zM494.43 165.76h0.65V247.7h-0.65zM494.93 167.53h0.65V247.7h-0.65zM495.43 167.21h0.65V247.7h-0.65zM495.93 168.86h0.65V247.7h-0.65zM496.43 171.92h0.65V247.7h-0.65zM496.93 168.91h0.65V247.7h-0.65zM497.43 174.25h0.65V247.7h-0.65zM497.93 170.07h0.65V247.7h-0.65zM498.43 166.54h0.65V247.7h-0.65zM498.93 171.05h0.65V247.7h-0.65zM499.43 168.31h0.65V247.7h-0.65zM499.93 144.48h0.65V247.7h-0.65zM500.43 152.62h0.65V247.7h-0.65zM500.93 171.82h0.65V247.7h-0.65zM501.43 166.91h0.65V247.7h-0.65zM501.93 168.05h0.65V247.7h-0.65zM502.43 142.23h0.65V247.7h-0.65zM502.93 152h0.65V247.7h-0.65zM503.43 130.77h0.65V247.7h-0.65zM503.93 162.82h0.65V247.7h-0.65zM504.43 144.33h0.65V247.7h-0.65zM504.93 152.71h0.65V247.7h-0.65zM505.43 163.06h0.65V247.7h-0.65zM505.93 167.62h0.65V247.7h-0.65zM506.43 169.01h0.65V247.7h-0.65zM506.93 139.21h0.65V247.7h-0.65zM507.43 163.9h0.65V247.7h-0.65zM507.93 147.62h0.65V247.7h-0.65zM508.43 180.96h0.65V247.7h-0.65zM508.93 182.54h0.65V247.7h-0.65zM509.43 140.36h0.65V247.7h-0.65zM509.93 145.63h0.65V247.7h-0.65zM510.43 183.2h0.65V247.7h-0.65zM510.93 177.39h0.65V247.7h-0.65zM511.43 184.01h0.65V247.7h-0.65zM511.93 160.95h0.65V247.7h-0.65zM512.42 181.94h0.65V247.7h-0.65zM512.92 186.49h0.65V247.7h-0.65zM513.42 181.51h0.65V247.7h-0.65zM513.92 135.43h0.65V247.7h-0.65zM514.42 180.45h0.65V247.7h-0.65zM514.92 175.96h0.65V247.7h-0.65zM515.42 175.67h0.65V247.7h-0.65zM515.92 163.39h0.65V247.7h-0.65zM516.42 176.12h0.65V247.7h-0.65zM516.92 155.83h0.65V247.7h-0.65zM517.42 158.66h0.65V247.7h-0.65zM517.92 155.53h0.65V247.7h-0.65zM518.42 171.58h0.65V247.7h-0.65zM518.92 176.26h0.65V247.7h-0.65zM519.42 177.29h0.65V247.7h-0.65zM519.92 160.74h0.65V247.7h-0.65zM520.42 153.89h0.65V247.7h-0.65zM520.92 180.02h0.65V247.7h-0.65zM521.42 179.09h0.65V247.7h-0.65zM521.92 159.6h0.65V247.7h-0.65zM522.42 183.66h0.65V247.7h-0.65zM522.92 167.8h0.65V247.7h-0.65zM523.42 184.21h0.65V247.7h-0.65zM523.92 105.51h0.65V247.7h-0.65zM524.42 182.47h0.65V247.7h-0.65zM524.92 178.68h0.65V247.7h-0.65zM525.42 186.54h0.65V247.7h-0.65zM525.92 160.69h0.65V247.7h-0.65zM526.42 182.61h0.65V247.7h-0.65zM526.92 177.56h0.65V247.7h-0.65zM527.42 185.6h0.65V247.7h-0.65zM527.92 160.07h0.65V247.7h-0.65zM528.42 160.74h0.65V247.7h-0.65zM528.92 152.67h0.65V247.7h-0.65zM529.42 179.32h0.65V247.7h-0.65zM529.92 151.8h0.65V247.7h-0.65zM530.42 179.59h0.65V247.7h-0.65zM530.92 179.35h0.65V247.7h-0.65zM531.42 174.54h0.65V247.7h-0.65zM531.92 175.38h0.65V247.7h-0.65zM532.42 174h0.65V247.7h-0.65zM532.92 165.84h0.65V247.7h-0.65zM533.42 127.37h0.65V247.7h-0.65zM533.92 167.47h0.65V247.7h-0.65zM534.42 122.29h0.65V247.7h-0.65zM534.92 166.92h0.65V247.7h-0.65zM535.42 166.1h0.65V247.7h-0.65zM535.92 164.1h0.65V247.7h-0.65zM536.42 135.1h0.65V247.7h-0.65zM536.92 166.75h0.65V247.7h-0.65zM537.42 167.73h0.65V247.7h-0.65zM537.92 169.64h0.65V247.7h-0.65zM538.42 137.7h0.65V247.7h-0.65zM538.92 171.22h0.65V247.7h-0.65zM539.42 150.87h0.65V247.7h-0.65zM539.92 171.73h0.65V247.7h-0.65zM540.42 170.45h0.65V247.7h-0.65zM540.92 142h0.65V247.7h-0.65zM541.42 158.48h0.65V247.7h-0.65zM541.92 168.36h0.65V247.7h-0.65zM542.42 163.74h0.65V247.7h-0.65zM542.92 163.76h0.65V247.7h-0.65zM543.42 133.22h0.65V247.7h-0.65zM543.92 166.3h0.65V247.7h-0.65zM544.42 166.64h0.65V247.7h-0.65zM544.92 165h0.65V247.7h-0.65zM545.42 166.17h0.65V247.7h-0.65zM545.92 135.29h0.65V247.7h-0.65zM546.42 142.23h0.65V247.7h-0.65zM546.92 160.23h0.65V247.7h-0.65zM547.42 174.45h0.65V247.7h-0.65zM547.92 168.6h0.65V247.7h-0.65zM548.42 167.48h0.65V247.7h-0.65zM548.92 139.67h0.65V247.7h-0.65zM549.42 164.41h0.65V247.7h-0.65zM549.92 167.44h0.65V247.7h-0.65zM550.42 134.27h0.65V247.7h-0.65zM550.92 97.28h0.65V247.7h-0.65zM551.42 158.9h0.65V247.7h-0.65zM551.92 139.57h0.65V247.7h-0.65zM552.42 116.7h0.65V247.7h-0.65zM552.92 167.61h0.65V247.7h-0.65zM553.42 174.06h0.65V247.7h-0.65zM553.92 164.68h0.65V247.7h-0.65zM554.42 170.61h0.65V247.7h-0.65zM554.92 162.89h0.65V247.7h-0.65zM555.42 149.19h0.65V247.7h-0.65zM555.92 168.24h0.65V247.7h-0.65zM556.42 159.82h0.65V247.7h-0.65zM556.92 163.55h0.65V247.7h-0.65zM557.42 168.48h0.65V247.7h-0.65zM557.92 165.9h0.65V247.7h-0.65zM558.42 165.05h0.65V247.7h-0.65zM558.92 167.11h0.65V247.7h-0.65zM559.42 161.76h0.65V247.7h-0.65zM559.92 130.87h0.65V247.7h-0.65zM560.42 170.96h0.65V247.7h-0.65zM560.92 156.87h0.65V247.7h-0.65zM561.42 156.36h0.65V247.7h-0.65zM561.92 170.29h0.65V247.7h-0.65zM562.42 169.48h0.65V247.7h-0.65zM562.92 168.44h0.65V247.7h-0.65zM563.42 173.51h0.65V247.7h-0.65zM563.92 173.28h0.65V247.7h-0.65zM564.42 180.76h0.65V247.7h-0.65zM564.92 158.87h0.65V247.7h-0.65zM565.42 173.87h0.65V247.7h-0.65zM565.92 179.92h0.65V247.7h-0.65zM566.42 162.45h0.65V247.7h-0.65zM566.92 158.36h0.65V247.7h-0.65zM567.42 150.72h0.65V247.7h-0.65zM567.92 149.11h0.65V247.7h-0.65zM495.2 105h0.8V247.7h-0.8zM500.71 89h0.59V247.7h-0.59zM506.11 84h0.59V247.7h-0.59zM514.71 82.6h0.59V247.7h-0.59zM518.71 101h0.59V247.7h-0.59zM516.31 114h0.59V247.7h-0.59zM521.31 112h0.59V247.7h-0.59zM526.67 117h0.65V247.7h-0.65zM526.55 124h0.9V247.7h-0.9zM532.11 80.6h0.59V247.7h-0.59zM537.31 116.6h0.59V247.7h-0.59zM542.71 86h0.59V247.7h-0.59zM544.71 100h0.59V247.7h-0.59zM547.31 110.6h0.59V247.7h-0.59zM541.95 130h0.9V247.7h-0.9zM557.6 89h0.8V247.7h-0.8zM562.71 127h0.59V247.7h-0.59zM558.67 135h0.65V247.7h-0.65zM568.42 135.71h0.65V247.7h-0.65zM568.92 128.87h0.65V247.7h-0.65zM569.42 123.75h0.65V247.7h-0.65zM569.92 120.49h0.65V247.7h-0.65zM570.42 118.23h0.65V247.7h-0.65zM570.92 111.03h0.65V247.7h-0.65zM571.42 109.05h0.65V247.7h-0.65zM571.92 108.84h0.65V247.7h-0.65zM572.42 104.96h0.65V247.7h-0.65zM572.92 108.31h0.65V247.7h-0.65zM573.42 106.39h0.65V247.7h-0.65zM573.92 106.91h0.65V247.7h-0.65zM574.42 105.78h0.65V247.7h-0.65zM574.92 106.05h0.65V247.7h-0.65zM575.42 105.8h0.65V247.7h-0.65zM575.92 103.32h0.65V247.7h-0.65zM576.42 106.03h0.65V247.7h-0.65zM576.92 106.58h0.65V247.7h-0.65zM577.42 109h0.65V247.7h-0.65zM577.92 109.57h0.65V247.7h-0.65zM578.42 108.55h0.65V247.7h-0.65zM578.92 111.03h0.65V247.7h-0.65zM579.42 114.06h0.65V247.7h-0.65zM579.92 117.99h0.65V247.7h-0.65zM580.42 117.78h0.65V247.7h-0.65zM580.92 118.36h0.65V247.7h-0.65zM581.42 122.27h0.65V247.7h-0.65zM581.92 124.78h0.65V247.7h-0.65zM582.42 128.92h0.65V247.7h-0.65zM582.92 126.1h0.65V247.7h-0.65zM583.42 121.55h0.65V247.7h-0.65zM583.92 123.31h0.65V247.7h-0.65zM584.42 121.32h0.65V247.7h-0.65zM584.92 116.43h0.65V247.7h-0.65zM585.42 110.78h0.65V247.7h-0.65zM585.92 111.48h0.65V247.7h-0.65zM586.42 104.65h0.65V247.7h-0.65zM586.92 96.68h0.65V247.7h-0.65zM587.42 95.78h0.65V247.7h-0.65zM587.92 87.32h0.65V247.7h-0.65zM588.42 79.99h0.65V247.7h-0.65zM588.92 79.45h0.65V247.7h-0.65zM589.42 74.9h0.65V247.7h-0.65zM589.92 71.96h0.65V247.7h-0.65zM590.42 70.2h0.65V247.7h-0.65zM590.92 66.75h0.65V247.7h-0.65zM591.42 67.25h0.65V247.7h-0.65zM591.92 66.24h0.65V247.7h-0.65zM592.42 62.38h0.65V247.7h-0.65zM592.92 59.92h0.65V247.7h-0.65zM593.42 54.95h0.65V247.7h-0.65zM593.92 49.2h0.65V247.7h-0.65zM594.42 55.81h0.65V247.7h-0.65zM594.92 61.13h0.65V247.7h-0.65zM595.42 64.59h0.65V247.7h-0.65zM595.92 67.02h0.65V247.7h-0.65zM596.42 75.23h0.65V247.7h-0.65zM596.92 78.01h0.65V247.7h-0.65zM597.42 78.15h0.65V247.7h-0.65zM597.92 76.57h0.65V247.7h-0.65zM598.42 77.5h0.65V247.7h-0.65zM598.92 76.47h0.65V247.7h-0.65zM599.42 79.6h0.65V247.7h-0.65zM599.92 74.33h0.65V247.7h-0.65zM600.42 75.2h0.65V247.7h-0.65zM600.92 93.06h0.65V247.7h-0.65zM601.42 106.89h0.65V247.7h-0.65zM601.92 117.65h0.65V247.7h-0.65zM602.42 126.39h0.65V247.7h-0.65zM602.92 127.51h0.65V247.7h-0.65zM603.42 129.66h0.65V247.7h-0.65zM603.92 132.94h0.65V247.7h-0.65zM604.42 136.91h0.65V247.7h-0.65zM570.31 91.4h0.59V247.7h-0.59zM578.11 93h0.59V247.7h-0.59zM568.31 106.6h0.59V247.7h-0.59zM583.71 56h0.59V247.7h-0.59zM587.74 80h0.52V247.7h-0.52zM590.34 62h0.52V247.7h-0.52zM603 189h1.4V247.7h-1.4zM604.72 225h0.96V247.7h-0.96zM603.9 125h0.6V247.7h-0.6zM606.54 149h0.52V247.7h-0.52zM608.19 175h0.42V247.7h-0.42zM609.65 90.6h0.7V247.7h-0.7zM611.3 147h1.4V247.7h-1.4zM614.4 181h1.2V247.7h-1.2zM619 191h1V247.7h-1zM620 175h3V247.7h-3zM621.3 125h0.6V247.7h-0.6zM619.65 118.6h0.7V247.7h-0.7zM622.3 96h0.6V247.7h-0.6zM623 208h4V247.7h-4zM624.9 78.6h0.6V247.7h-0.6zM627 193h3V247.7h-3zM630 179h2.4V247.7h-2.4zM629.65 115h0.7V247.7h-0.7zM632.4 167h2V247.7h-2zM634.4 193h1.6V247.7h-1.6zM635.05 98.6h0.7V247.7h-0.7zM636 237h2V247.7h-2zM639.2 192h0.6V247.7h-0.6zM640.69 113.4h0.62V247.7h-0.62zM642.14 211h0.52V247.7h-0.52zM644 237h2.4V247.7h-2.4zM645.69 126h0.62V247.7h-0.62zM648 221.4h6V247.7h-6zM648.52 95h0.96V247.7h-0.96zM651.25 114h0.7V247.7h-0.7zM654 237.6h3V247.7h-3zM657 221.4h1.4V247.7h-1.4zM658.17 85.4h1.05V247.7h-1.05zM658.6 135h1.4V247.7h-1.4zM661.1 86.6h0.6V247.7h-0.6zM661 179h1.4V247.7h-1.4zM662.7 155h0.6V247.7h-0.6zM663.88 185h0.84V247.7h-0.84zM665 125h3V247.7h-3zM665.46 117h1.08V247.7h-1.08zM666.3 91h0.6V247.7h-0.6zM668.35 165h0.7V247.7h-0.7zM669.72 209h0.96V247.7h-0.96zM671 125h2V247.7h-2zM671.52 118.6h0.96V247.7h-0.96zM673.17 175h0.65V247.7h-0.65zM674.1 93h0.6V247.7h-0.6zM674 213h3V247.7h-3zM677 237h3V247.7h-3zM677.65 124.6h0.7V247.7h-0.7zM675.84 145h0.52V247.7h-0.52zM679.04 185h0.52V247.7h-0.52zM680.84 165h0.52V247.7h-0.52zM682.1 112h0.6V247.7h-0.6zM682.32 191h0.96V247.7h-0.96zM684 185h2V247.7h-2zM685.46 113h1.08V247.7h-1.08zM686 161h3V247.7h-3zM687.05 69.4h0.7V247.7h-0.7zM687.46 95h1.08V247.7h-1.08zM689.21 191h0.98V247.7h-0.98zM690.7 145h0.6V247.7h-0.6zM691.7 95h0.6V247.7h-0.6zM691.6 209h1.4V247.7h-1.4zM693 125h2V247.7h-2zM693.1 112h0.6V247.7h-0.6zM695 131h2V247.7h-2zM695.64 129.4h0.72V247.7h-0.72zM697.28 137h0.84V247.7h-0.84zM698.4 133h1.6V247.7h-1.6zM699.86 91.4h1.08V247.7h-1.08zM700.35 151h0.7V247.7h-0.7zM701.4 149h1.6V247.7h-1.6zM703.1 114.6h0.6V247.7h-0.6zM703.28 161h0.84V247.7h-0.84zM704.4 168h1.6V247.7h-1.6zM706.3 92h0.6V247.7h-0.6zM706.28 205h0.84V247.7h-0.84zM707.25 134h0.9V247.7h-0.9zM707.4 237h1V247.7h-1z" fill="#1f77b4"/>
<path d="M46.7 205.28h0.9V247.7h-0.9zM47.9 212.01h1.6V247.7h-1.6zM49.5 192.19h2.6V247.7h-2.6zM52.1 221.49h1.9V247.7h-1.9zM53.6 205.28h2.3V247.7h-2.3zM56.52 189.07h0.55V247.7h-0.55zM57.8 237.7h1.3V247.7h-1.3zM59.1 205.28h1.9V247.7h-1.9zM62.3 212.01h1.3V247.7h-1.3zM63.6 221.49h1.9V247.7h-1.9zM65.5 221.49h1.5V247.7h-1.5zM66.02 200.06h0.55V247.7h-0.55zM69.3 237.7h1.9V247.7h-1.9zM70.02 221.49h0.55V247.7h-0.55zM71.2 237.7h1.3V247.7h-1.3zM71.97 200.06h0.55V247.7h-0.55zM72.9 237.7h1.5V247.7h-1.5zM73.62 195.8h0.55V247.7h-0.55zM74.4 221.49h1.9V247.7h-1.9zM76.3 221.49h1.9V247.7h-1.9zM77.42 183.85h0.55V247.7h-0.55zM78.2 237.7h1.3V247.7h-1.3zM87.8 221.49h1.2V247.7h-1.2zM88.97 195.8h0.55V247.7h-0.55zM92.6 183.85h1.5V247.7h-1.5zM100.5 212.01h1.9V247.7h-1.9zM102.92 237.7h1.56V247.7h-1.56zM106.9 237.7h2.5V247.7h-2.5zM109.8 195.8h1.9V247.7h-1.9zM112 237.7h1.9V247.7h-1.9zM112.9 205.28h1V247.7h-1zM114.4 237.7h1.5V247.7h-1.5zM116.4 212.01h1.6V247.7h-1.6zM118.32 205.28h0.96V247.7h-0.96zM119.6 212.01h1.9V247.7h-1.9zM121.47 183.85h0.55V247.7h-0.55zM122.64 221.49h1.02V247.7h-1.02zM125.96 221.49h0.78V247.7h-0.78zM127 237.7h2V247.7h-2zM130.2 195.8h1.5V247.7h-1.5zM132.97 237.7h0.55V247.7h-0.55zM126.22 158.16h0.55V247.7h-0.55zM136.32 162.42h0.55V247.7h-0.55zM130.83 159.77h0.55V247.7h-0.55zM131.2 205.28h1V247.7h-1zM138.18 221.49h1.14V247.7h-1.14zM139.1 237.7h1.3V247.7h-1.3zM141 237.7h1V247.7h-1zM143.6 237.7h1.2V247.7h-1.2zM146.28 221.49h0.54V247.7h-0.54zM147.4 237.7h1.3V247.7h-1.3zM149 237.7h2.2V247.7h-2.2zM150.93 160.62h0.55V247.7h-0.55zM151 195.8h1.4V247.7h-1.4zM152.82 205.28h0.96V247.7h-0.96zM155 205.28h1.4V247.7h-1.4zM157 212.01h1.2V247.7h-1.2zM158.5 200.06h0.9V247.7h-0.9zM159.4 200.06h1.2V247.7h-1.2zM164 237.7h1.1V247.7h-1.1zM165.9 221.49h1.5V247.7h-1.5zM167.4 221.49h2.3V247.7h-2.3zM169.07 163.38h0.55V247.7h-0.55zM169.5 192.19h1.3V247.7h-1.3zM174.14 212.01h1.92V247.7h-1.92zM177.08 192.19h1.14V247.7h-1.14zM178.6 200.06h1.3V247.7h-1.3zM181.8 237.7h1.2V247.7h-1.2zM184.38 183.85h0.55V247.7h-0.55zM185.6 221.49h2.6V247.7h-2.6zM188.2 237.7h1.8V247.7h-1.8zM189.22 200.06h0.55V247.7h-0.55zM189.5 221.49h0.5V247.7h-0.5zM190 221.49h0.5V247.7h-0.5zM190.5 221.49h0.5V247.7h-0.5zM191 237.7h1V247.7h-1zM191.3 237.7h0.4V247.7h-0.4zM192 221.49h1V247.7h-1zM192.08 212.01h0.4V247.7h-0.4zM193.45 205.28h0.4V247.7h-0.4zM193.56 200.06h0.4V247.7h-0.4zM194 212.01h1V247.7h-1zM195 212.01h1V247.7h-1zM195.2 212.01h0.4V247.7h-0.4zM196 212.01h1V247.7h-1zM197.57 221.49h0.4V247.7h-0.4zM198.38 237.7h0.4V247.7h-0.4zM198.04 237.7h0.4V247.7h-0.4zM200 221.49h1V247.7h-1zM200.58 221.49h0.4V247.7h-0.4zM202.16 195.8h0.4V247.7h-0.4zM203 212.01h1V247.7h-1zM204 212.01h1V247.7h-1zM204.17 179.59h0.4V247.7h-0.4zM205 200.06h1V247.7h-1zM205.57 183.85h0.4V247.7h-0.4zM206 205.28h1V247.7h-1zM206.08 195.8h0.4V247.7h-0.4zM207 212.01h1V247.7h-1zM207.05 195.8h0.4V247.7h-0.4zM208 205.28h1V247.7h-1zM209 205.28h1V247.7h-1zM209.37 192.19h0.4V247.7h-0.4zM209.15 195.8h0.4V247.7h-0.4zM210 212.01h1V247.7h-1zM210.01 192.19h0.4V247.7h-0.4zM210.14 189.07h0.4V247.7h-0.4zM211 212.01h1V247.7h-1zM211.18 195.8h0.4V247.7h-0.4zM212 221.49h1V247.7h-1zM212.23 221.49h0.4V247.7h-0.4zM213 221.49h1V247.7h-1zM213.58 221.49h0.4V247.7h-0.4zM214 221.49h1V247.7h-1zM214.37 205.28h0.4V247.7h-0.4zM215 212.01h1V247.7h-1zM216 212.01h1V247.7h-1zM217 205.28h0.4V247.7h-0.4zM218 221.49h1V247.7h-1zM219 237.7h1V247.7h-1zM220 237.7h1V247.7h-1zM220.18 237.7h0.4V247.7h-0.4zM220.23 237.7h0.4V247.7h-0.4zM224.5 237.7h1V247.7h-1zM224.61 237.7h0.4V247.7h-0.4zM225.5 237.7h1V247.7h-1zM226.5 221.49h1V247.7h-1zM227 212.01h0.4V247.7h-0.4zM227.5 221.49h1V247.7h-1zM227.84 221.49h0.4V247.7h-0.4zM228.5 212.01h1V247.7h-1zM230.86 212.01h0.4V247.7h-0.4zM230.91 212.01h0.4V247.7h-0.4zM231.5 237.7h1V247.7h-1zM231.84 221.49h0.4V247.7h-0.4zM232.87 221.49h0.4V247.7h-0.4zM233.99 237.7h0.4V247.7h-0.4zM234.09 237.7h0.4V247.7h-0.4zM234.91 237.7h0.4V247.7h-0.4zM240 237.7h1V247.7h-1zM240.3 221.49h0.4V247.7h-0.4zM240.38 221.49h0.4V247.7h-0.4zM241 221.49h1V247.7h-1zM242 221.49h1V247.7h-1zM242 212.01h0.4V247.7h-0.4zM243 221.49h1V247.7h-1zM244 221.49h1V247.7h-1zM244.32 205.28h0.4V247.7h-0.4zM245.09 205.28h0.4V247.7h-0.4zM246 221.49h1V247.7h-1zM246.31 200.06h0.4V247.7h-0.4zM247 205.28h1V247.7h-1zM247.46 212.01h0.4V247.7h-0.4zM247.21 195.8h0.4V247.7h-0.4zM248 221.49h1V247.7h-1zM248.35 200.06h0.4V247.7h-0.4zM248.23 205.28h0.4V247.7h-0.4zM249 212.01h1V247.7h-1zM250 212.01h1V247.7h-1zM250.56 212.01h0.4V247.7h-0.4zM251 205.28h1V247.7h-1zM251.58 200.06h0.4V247.7h-0.4zM252 200.06h1V247.7h-1zM252.43 195.8h0.4V247.7h-0.4zM252.53 200.06h0.4V247.7h-0.4zM253 200.06h1V247.7h-1zM253.22 200.06h0.4V247.7h-0.4zM253.17 186.31h0.4V247.7h-0.4zM254 221.49h1V247.7h-1zM254.04 192.19h0.4V247.7h-0.4zM255 200.06h1V247.7h-1zM255.11 195.8h0.4V247.7h-0.4zM255.02 195.8h0.4V247.7h-0.4zM256 212.01h1V247.7h-1zM256.06 192.19h0.4V247.7h-0.4zM256.08 189.07h0.4V247.7h-0.4zM257 205.28h1V247.7h-1zM257.43 200.06h0.4V247.7h-0.4zM258 205.28h1V247.7h-1zM258.3 192.19h0.4V247.7h-0.4zM258.08 200.06h0.4V247.7h-0.4zM259 221.49h1V247.7h-1zM260 221.49h1V247.7h-1zM260.07 192.19h0.4V247.7h-0.4zM261 212.01h1V247.7h-1zM261.23 192.19h0.4V247.7h-0.4zM262 212.01h1V247.7h-1zM262.11 205.28h0.4V247.7h-0.4zM263 212.01h1V247.7h-1zM263.22 200.06h0.4V247.7h-0.4zM264 221.49h1V247.7h-1zM264.08 205.28h0.4V247.7h-0.4zM265 221.49h1V247.7h-1zM266.02 221.49h0.4V247.7h-0.4zM267 237.7h1V247.7h-1zM267.4 237.7h0.4V247.7h-0.4zM273.5 237.7h1V247.7h-1zM273.61 237.7h0.4V247.7h-0.4zM273.94 237.7h0.4V247.7h-0.4zM274.5 237.7h1V247.7h-1zM274.62 221.49h0.4V247.7h-0.4zM274.52 221.49h0.4V247.7h-0.4zM275.5 212.01h1V247.7h-1zM275.84 205.28h0.4V247.7h-0.4zM276.5 212.01h1V247.7h-1zM277 212.01h0.4V247.7h-0.4zM277.5 212.01h1V247.7h-1zM277.86 189.07h0.4V247.7h-0.4zM277.57 195.8h0.4V247.7h-0.4zM278.5 221.49h1V247.7h-1zM279.5 212.01h1V247.7h-1zM280 200.06h0.4V247.7h-0.4zM280.07 212.01h0.4V247.7h-0.4zM280.5 212.01h1V247.7h-1zM281.92 212.01h0.4V247.7h-0.4zM282.5 221.49h1V247.7h-1zM282.53 205.28h0.4V247.7h-0.4zM283.5 221.49h1V247.7h-1zM284.08 212.01h0.4V247.7h-0.4zM284.5 237.7h1V247.7h-1zM284.75 221.49h0.4V247.7h-0.4zM284.58 221.49h0.4V247.7h-0.4zM285.5 237.7h1V247.7h-1zM285.81 237.7h0.4V247.7h-0.4zM285.71 221.49h0.4V247.7h-0.4zM286.5 237.7h1V247.7h-1zM286.7 237.7h0.4V247.7h-0.4zM291.5 237.7h1V247.7h-1zM291.86 237.7h0.4V247.7h-0.4zM292 237.7h0.4V247.7h-0.4zM292.5 221.49h1V247.7h-1zM292.54 221.49h0.4V247.7h-0.4zM292.92 221.49h0.4V247.7h-0.4zM293.5 221.49h1V247.7h-1zM293.72 205.28h0.4V247.7h-0.4zM293.51 212.01h0.4V247.7h-0.4zM295.09 200.06h0.4V247.7h-0.4zM295.5 221.49h1V247.7h-1zM295.61 200.06h0.4V247.7h-0.4zM296.5 205.28h1V247.7h-1zM297.58 200.06h0.4V247.7h-0.4zM298.5 212.01h1V247.7h-1zM298.88 212.01h0.4V247.7h-0.4zM300 212.01h0.4V247.7h-0.4zM300.5 221.49h1V247.7h-1zM300.69 205.28h0.4V247.7h-0.4zM300.72 205.28h0.4V247.7h-0.4zM301.84 212.01h0.4V247.7h-0.4zM302.5 205.28h1V247.7h-1zM303.5 205.28h1V247.7h-1zM303.85 195.8h0.4V247.7h-0.4zM303.6 189.07h0.4V247.7h-0.4zM304.5 195.8h1V247.7h-1zM304.76 205.28h0.4V247.7h-0.4zM304.5 189.07h0.4V247.7h-0.4zM306.5 212.01h1V247.7h-1zM307.5 212.01h1V247.7h-1zM308 189.07h0.4V247.7h-0.4zM308.5 221.49h1V247.7h-1zM308.71 195.8h0.4V247.7h-0.4zM308.69 205.28h0.4V247.7h-0.4zM309.5 205.28h1V247.7h-1zM311.5 221.49h1V247.7h-1zM312.5 212.01h1V247.7h-1zM312.68 200.06h0.4V247.7h-0.4zM313.5 205.28h1V247.7h-1zM313.91 205.28h0.4V247.7h-0.4zM313.9 212.01h0.4V247.7h-0.4zM314.5 212.01h1V247.7h-1zM314.84 205.28h0.4V247.7h-0.4zM314.61 212.01h0.4V247.7h-0.4zM315.65 205.28h0.4V247.7h-0.4zM316.5 221.49h1V247.7h-1zM316.83 221.49h0.4V247.7h-0.4zM316.57 221.49h0.4V247.7h-0.4zM317.5 237.7h1V247.7h-1zM317.54 237.7h0.4V247.7h-0.4zM317.83 237.7h0.4V247.7h-0.4zM326 221.49h0.5V247.7h-0.5zM326.5 237.7h0.5V247.7h-0.5zM327 237.7h0.5V247.7h-0.5zM336 237.7h0.5V247.7h-0.5zM336.5 237.7h0.5V247.7h-0.5zM337.5 237.7h0.5V247.7h-0.5zM338 237.7h0.5V247.7h-0.5zM339.3 189h0.8V247.7h-0.8zM330.2 221.49h0.9V247.7h-0.9zM344.5 237.7h0.5V247.7h-0.5zM346.5 237.7h0.5V247.7h-0.5zM349.66 221.49h0.4V247.7h-0.4zM350.6 212.01h1V247.7h-1zM351.01 200.06h0.4V247.7h-0.4zM350.87 212.01h0.4V247.7h-0.4zM351.6 212.01h1V247.7h-1zM351.67 212.01h0.4V247.7h-0.4zM352.6 212.01h1V247.7h-1zM352.83 200.06h0.4V247.7h-0.4zM352.92 200.06h0.4V247.7h-0.4zM353.6 212.01h1V247.7h-1zM353.69 212.01h0.4V247.7h-0.4zM354.6 212.01h1V247.7h-1zM355.09 212.01h0.4V247.7h-0.4zM355.6 221.49h1V247.7h-1zM356.11 221.49h0.4V247.7h-0.4zM355.97 212.01h0.4V247.7h-0.4zM356.6 237.7h1V247.7h-1zM356.95 237.7h0.4V247.7h-0.4zM356.82 237.7h0.4V247.7h-0.4zM363.4 237.7h1V247.7h-1zM363.4 237.7h0.4V247.7h-0.4zM364.4 237.7h1V247.7h-1zM364.43 212.01h0.4V247.7h-0.4zM364.56 221.49h0.4V247.7h-0.4zM365.4 221.49h1V247.7h-1zM365.72 212.01h0.4V247.7h-0.4zM366.86 200.06h0.4V247.7h-0.4zM367.4 205.28h1V247.7h-1zM367.88 200.06h0.4V247.7h-0.4zM369.4 200.06h1V247.7h-1zM370.4 212.01h1V247.7h-1zM370.6 200.06h0.4V247.7h-0.4zM371.4 195.8h1V247.7h-1zM371.55 192.19h0.4V247.7h-0.4zM371.48 192.19h0.4V247.7h-0.4zM372.4 200.06h1V247.7h-1zM372.74 192.19h0.4V247.7h-0.4zM372.44 200.06h0.4V247.7h-0.4zM373.4 212.01h1V247.7h-1zM374.75 189.07h0.4V247.7h-0.4zM374.75 200.06h0.4V247.7h-0.4zM375.66 192.19h0.4V247.7h-0.4zM376.4 212.01h1V247.7h-1zM376.41 205.28h0.4V247.7h-0.4zM377.4 221.49h1V247.7h-1zM377.52 212.01h0.4V247.7h-0.4zM378.4 212.01h1V247.7h-1zM378.98 205.28h0.4V247.7h-0.4zM379.4 221.49h1V247.7h-1zM380.4 221.49h1V247.7h-1zM380.93 205.28h0.4V247.7h-0.4zM381.85 221.49h0.4V247.7h-0.4zM382.4 221.49h1V247.7h-1zM382.65 221.49h0.4V247.7h-0.4zM382.6 221.49h0.4V247.7h-0.4zM383.4 221.49h1V247.7h-1zM383.41 221.49h0.4V247.7h-0.4zM384.4 221.49h1V247.7h-1zM384.83 221.49h0.4V247.7h-0.4zM384.49 221.49h0.4V247.7h-0.4zM385.4 221.49h1V247.7h-1zM385.65 221.49h0.4V247.7h-0.4zM386.4 237.7h1V247.7h-1zM388.8 237.7h0.5V247.7h-0.5zM394.8 237.7h0.5V247.7h-0.5zM399 237.7h0.5V247.7h-0.5zM399.5 221.49h0.5V247.7h-0.5zM400 221.49h0.5V247.7h-0.5zM400.5 221.49h0.5V247.7h-0.5zM401.5 221.49h0.5V247.7h-0.5zM402 237.7h0.5V247.7h-0.5zM403 237.7h0.5V247.7h-0.5zM403.5 237.7h0.5V247.7h-0.5zM404 237.7h0.5V247.7h-0.5zM405 237.7h0.5V247.7h-0.5zM405.5 237.7h0.5V247.7h-0.5zM406 237.7h0.5V247.7h-0.5zM407 237.7h0.5V247.7h-0.5zM408 212.01h0.5V247.7h-0.5zM408.5 237.7h0.5V247.7h-0.5zM409 212.01h0.5V247.7h-0.5zM409.5 237.7h0.5V247.7h-0.5zM411 237.7h0.5V247.7h-0.5zM411.5 237.7h0.5V247.7h-0.5zM412 221.49h0.5V247.7h-0.5zM412.5 237.7h0.5V247.7h-0.5zM413 212.01h0.5V247.7h-0.5zM414 221.49h0.5V247.7h-0.5zM414.5 221.49h0.5V247.7h-0.5zM415.5 237.7h0.5V247.7h-0.5zM416 221.49h0.5V247.7h-0.5zM416.5 237.7h0.5V247.7h-0.5zM418 221.49h0.5V247.7h-0.5zM418.5 237.7h0.5V247.7h-0.5zM419.5 237.7h0.5V247.7h-0.5zM420 237.7h0.5V247.7h-0.5zM420.5 237.7h0.5V247.7h-0.5zM421.5 221.49h0.5V247.7h-0.5zM422 221.49h0.5V247.7h-0.5zM422.5 221.49h0.5V247.7h-0.5zM423 237.7h0.5V247.7h-0.5zM423.5 237.7h0.5V247.7h-0.5zM424.5 237.7h0.5V247.7h-0.5zM425 221.49h0.5V247.7h-0.5zM425.5 237.7h0.5V247.7h-0.5zM426 221.49h0.5V247.7h-0.5zM427 212.01h0.5V247.7h-0.5zM428 237.7h0.5V247.7h-0.5zM428.5 237.7h0.5V247.7h-0.5zM429 221.49h0.5V247.7h-0.5zM429.5 221.49h0.5V247.7h-0.5zM430 237.7h0.5V247.7h-0.5zM430.5 221.49h0.5V247.7h-0.5zM431 237.7h0.5V247.7h-0.5zM431.5 237.7h0.5V247.7h-0.5zM432 237.7h0.5V247.7h-0.5zM433 221.49h0.5V247.7h-0.5zM433.5 237.7h0.5V247.7h-0.5zM434 237.7h0.5V247.7h-0.5zM436 237.7h0.5V247.7h-0.5zM436.5 237.7h0.5V247.7h-0.5zM437.5 221.49h0.5V247.7h-0.5zM438 221.49h0.5V247.7h-0.5zM438.5 221.49h0.5V247.7h-0.5zM439 237.7h0.5V247.7h-0.5zM439.5 221.49h0.5V247.7h-0.5zM421.7 200h0.6V247.7h-0.6zM428.7 179h0.6V247.7h-0.6zM431.5 195h1V247.7h-1zM430 205h0.8V247.7h-0.8zM425.3 211h0.6V247.7h-0.6zM443.4 237.7h0.5V247.7h-0.5zM454.2 221.49h0.6V247.7h-0.6zM463 237.7h0.5V247.7h-0.5zM463.5 237.7h0.5V247.7h-0.5zM464.5 237.7h0.5V247.7h-0.5zM463.3 237.7h0.8V247.7h-0.8zM475 237.7h0.5V247.7h-0.5zM476 237.7h0.5V247.7h-0.5zM477 221.49h0.5V247.7h-0.5zM477.5 221.49h0.5V247.7h-0.5zM479 221.49h0.5V247.7h-0.5zM480 237.7h0.5V247.7h-0.5zM480.5 221.49h0.5V247.7h-0.5zM481 237.7h0.5V247.7h-0.5zM481.5 221.49h0.5V247.7h-0.5zM482 221.49h0.5V247.7h-0.5zM482.5 221.49h0.5V247.7h-0.5zM483 237.7h0.5V247.7h-0.5zM483.5 237.7h0.5V247.7h-0.5zM484 237.7h0.5V247.7h-0.5zM484.5 221.49h0.5V247.7h-0.5zM485 237.7h0.5V247.7h-0.5zM486 221.49h0.5V247.7h-0.5zM486.5 221.49h0.5V247.7h-0.5zM487 237.7h0.5V247.7h-0.5zM487.5 221.49h0.5V247.7h-0.5zM488 221.49h0.5V247.7h-0.5zM489 237.7h0.5V247.7h-0.5zM480.4 162h0.6V247.7h-0.6zM480.8 195h1.2V247.7h-1.2zM490 237.7h1V247.7h-1zM490.2 237.7h0.4V247.7h-0.4zM491 221.49h1V247.7h-1zM491.3 212.01h0.4V247.7h-0.4zM492 221.49h1V247.7h-1zM492.5 212.01h0.4V247.7h-0.4zM493 221.49h1V247.7h-1zM493.31 221.49h0.4V247.7h-0.4zM500.75 237.6h0.5V247.7h-0.5zM506.05 192h0.7V247.7h-0.7zM514.77 148h0.45V247.7h-0.45zM516.75 237.6h0.5V247.7h-0.5zM521.75 237.6h0.5V247.7h-0.5zM524.75 237.6h0.5V247.7h-0.5zM530.75 237.6h0.5V247.7h-0.5zM532.05 205h0.7V247.7h-0.7zM534.1 211h0.6V247.7h-0.6zM544.75 237.6h0.5V247.7h-0.5zM552.1 192h0.6V247.7h-0.6zM557.55 237.6h0.9V247.7h-0.9zM566.65 237.6h0.7V247.7h-0.7zM569.25 237.6h0.7V247.7h-0.7zM581.05 237.7h0.4V247.7h-0.4zM581.55 237.7h0.4V247.7h-0.4zM582.05 237.7h0.4V247.7h-0.4zM583.05 237.7h0.4V247.7h-0.4zM583.55 237.7h0.4V247.7h-0.4zM584.55 237.7h0.4V247.7h-0.4zM585.05 237.7h0.4V247.7h-0.4zM586.55 237.7h0.4V247.7h-0.4zM587.05 237.7h0.4V247.7h-0.4zM587.55 237.7h0.4V247.7h-0.4zM588.55 237.7h0.4V247.7h-0.4zM589.05 237.7h0.4V247.7h-0.4zM584 160h0.5V247.7h-0.5zM588 221.49h2V247.7h-2zM590 191h2V247.7h-2zM592 162h3.6V247.7h-3.6zM593.9 153h0.7V247.7h-0.7zM595.6 192h2V247.7h-2zM597.6 201h2V247.7h-2zM599.6 211h2V247.7h-2zM601.6 237.7h1.4V247.7h-1.4zM583.35 161h0.5V247.7h-0.5zM609.7 237.6h0.6V247.7h-0.6zM625.3 221h0.6V247.7h-0.6zM664.7 221h0.6V247.7h-0.6zM686.6 237.6h0.8V247.7h-0.8zM690.7 237.6h0.6V247.7h-0.6zM695.7 237.6h0.6V247.7h-0.6zM658.7 205h1.3V247.7h-1.3zM658.8 155h0.7V247.7h-0.7z" fill="#ff7f0e"/>
</g>
<rect x="45.9" y="19.6" width="662.6" height="228.1" fill="none" stroke="#2a2a2a" stroke-width="0.9"/>
<path d="M43.6 237.7L45.9 237.7M43.6 183.85L45.9 183.85M43.6 130L45.9 130M43.6 76.15L45.9 76.15M43.6 22.3L45.9 22.3" stroke="#555" stroke-width="0.6" fill="none"/>
<path d="M44.6 246.04L45.9 246.04M44.6 242.92L45.9 242.92M44.6 240.16L45.9 240.16M44.6 221.49L45.9 221.49M44.6 212.01L45.9 212.01M44.6 205.28L45.9 205.28M44.6 200.06L45.9 200.06M44.6 195.8L45.9 195.8M44.6 192.19L45.9 192.19M44.6 189.07L45.9 189.07M44.6 186.31L45.9 186.31M44.6 167.64L45.9 167.64M44.6 158.16L45.9 158.16M44.6 151.43L45.9 151.43M44.6 146.21L45.9 146.21M44.6 141.95L45.9 141.95M44.6 138.34L45.9 138.34M44.6 135.22L45.9 135.22M44.6 132.46L45.9 132.46M44.6 113.79L45.9 113.79M44.6 104.31L45.9 104.31M44.6 97.58L45.9 97.58M44.6 92.36L45.9 92.36M44.6 88.1L45.9 88.1M44.6 84.49L45.9 84.49M44.6 81.37L45.9 81.37M44.6 78.61L45.9 78.61M44.6 59.94L45.9 59.94M44.6 50.46L45.9 50.46M44.6 43.73L45.9 43.73M44.6 38.51L45.9 38.51M44.6 34.25L45.9 34.25M44.6 30.64L45.9 30.64M44.6 27.52L45.9 27.52M44.6 24.76L45.9 24.76" stroke="#666" stroke-width="0.45" fill="none"/>
<text x="45.9" y="260.5" font-size="7.9" text-anchor="middle">1050</text>
<text x="128.72" y="260.5" font-size="7.9" text-anchor="middle">1100</text>
<text x="211.55" y="260.5" font-size="7.9" text-anchor="middle">1150</text>
<text x="294.38" y="260.5" font-size="7.9" text-anchor="middle">1200</text>
<text x="377.2" y="260.5" font-size="7.9" text-anchor="middle">1250</text>
<text x="460.02" y="260.5" font-size="7.9" text-anchor="middle">1300</text>
<text x="542.85" y="260.5" font-size="7.9" text-anchor="middle">1350</text>
<text x="625.67" y="260.5" font-size="7.9" text-anchor="middle">1400</text>
<text x="708.5" y="260.5" font-size="7.9" text-anchor="middle">1450</text>
<path d="M45.9 247.7L45.9 250M128.72 247.7L128.72 250M211.55 247.7L211.55 250M294.38 247.7L294.38 250M377.2 247.7L377.2 250M460.02 247.7L460.02 250M542.85 247.7L542.85 250M625.67 247.7L625.67 250M708.5 247.7L708.5 250" stroke="#555" stroke-width="0.6" fill="none"/>
<text x="39.2" y="241.6" font-size="7.9" text-anchor="end">10<tspan dy="-3.32" font-size="5.6">0</tspan></text>
<text x="39.2" y="187.75" font-size="7.9" text-anchor="end">10<tspan dy="-3.32" font-size="5.6">1</tspan></text>
<text x="39.2" y="133.9" font-size="7.9" text-anchor="end">10<tspan dy="-3.32" font-size="5.6">2</tspan></text>
<text x="39.2" y="80.05" font-size="7.9" text-anchor="end">10<tspan dy="-3.32" font-size="5.6">3</tspan></text>
<text x="39.2" y="26.2" font-size="7.9" text-anchor="end">10<tspan dy="-3.32" font-size="5.6">4</tspan></text>
<text x="377.2" y="13.7" font-size="15.3" text-anchor="middle">YY</text>
<text x="377.2" y="274.4" font-size="12.3" text-anchor="middle">Frequency (MHz)</text>
<text transform="translate(19.3 135) rotate(-90)" font-size="12.3" text-anchor="middle">Counts</text>
<text x="363.7" y="298" font-size="15" letter-spacing="0.6" text-anchor="middle" font-family="'Liberation Serif','DejaVu Serif',serif">(a)</text>
<rect x="50" y="23.4" width="110" height="51.6" rx="1.6" fill="#fff" fill-opacity="0.8" stroke="#ccc" stroke-opacity="0.8" stroke-width="0.8"/>
<rect x="53.2" y="27.5" width="16.4" height="5.8" fill="#ffff80"/>
<text x="76.3" y="33.6" font-size="8.2">Civil aviation</text>
<rect x="53.2" y="39.6" width="16.4" height="5.8" fill="#ff8080"/>
<text x="76.3" y="45.7" font-size="8.2">Navigation satellite</text>
<rect x="53.2" y="51.8" width="16.4" height="5.8" fill="#1f77b4"/>
<text x="76.3" y="57.9" font-size="8.2">Hits</text>
<rect x="53.2" y="64.3" width="16.4" height="5.8" fill="#ff7f0e"/>
<text x="76.3" y="70.4" font-size="8.2">Events</text>
<path d="M33.7 573.8V480.48h1.56V488.62h1.56V491.09h1.56V493.88h1.56V497.34h1.56V493.68h1.56V495.7h1.56V494.15h1.56V487.99h1.56V493.11h1.56V495.34h1.56V498.82h1.56V494.93h1.56V496.27h1.56V493.16h1.56V498h1.56V500.23h1.56V494.14h1.56V497.81h1.56V498.28h1.56V497.53h1.56V498.26h1.56V496.79h1.56V498.36h1.56V496.56h1.56V495.46h1.56V494.82h1.56V495.17h1.56V496.45h1.56V496.59h1.56V503.38h1.56V495.28h1.56V493.48h1.56V495.09h1.56V494.76h1.56V495.52h1.56V494.13h1.56V493.81h1.56V499.52h1.56V496.12h1.56V498.28h1.56V496.25h1.56V497.55h1.56V497.76h1.56V491.86h1.56V496.8h1.56V496.33h1.56V496.84h1.56V493.48h1.56V496.93h1.56V495.51h1.56V496.49h1.56V493.47h1.56V496.66h1.56V495.91h1.56V496.4h1.56V496.73h1.56V493.53h1.56V502.88h1.56V495.08h1.56V495.29h1.56V495.05h1.56V497.56h1.56V495.25h1.56V497.13h1.56V498.34h1.56V494.91h1.56V491.18h1.56V496.23h1.56V496.55h1.56V498.81h1.56V497.06h1.56V501.63h1.56V494.35h1.56V502.57h1.56V481.51h1.56V451.58h1.56V457.37h1.56V485.37h1.56V484.4h1.56V459.31h1.56V454.48h1.56V427.28h1.56V448.9h1.56V436.35h1.56V426.7h1.56V424.77h1.56V414.15h1.56V397.74h1.56V412.22h1.56V416.08h1.56V404.5h1.56V417.05h1.56V437.32h1.56V410.68h1.56V421.87h1.56V427.66h1.56V407.97h1.56V406.43h1.56V387.12h1.56V352.76h1.56V429.59h1.56V436.35h1.56V451.58h1.56V457.37h1.56V465.1h1.56V475.71h1.56V477.07h1.56V476.68h1.56V473.2h1.56V474.36h1.56V473.2h1.56V478.61h1.56V488.26h1.56V493.09h1.56V492.51h1.56V489.23h1.56V495.02h1.56V498.99h1.56V494.27h1.56V495.21h1.56V493.1h1.56V496.1h1.56V499.2h1.56V500.78h1.56V501.15h1.56V500.26h1.56V495.64h1.56V495.91h1.56V495.62h1.56V495.92h1.56V498.43h1.56V499.7h1.56V497.21h1.56V500.03h1.56V495.79h1.56V498.74h1.56V497.52h1.56V497.31h1.56V498.33h1.56V499.99h1.56V494.97h1.56V499.41h1.56V499.77h1.56V497.58h1.56V499.75h1.56V496.59h1.56V497.93h1.56V500.34h1.56V501.53h1.56V496.93h1.56V495.14h1.56V497.71h1.56V500.87h1.56V497.18h1.56V493.56h1.56V506.21h1.56V497.83h1.56V495.58h1.56V500.94h1.56V502.24h1.56V495.02h1.56V499.37h1.56V497.31h1.56V501.24h1.56V498.92h1.56V501.31h1.56V497h1.56V498.61h1.56V502.31h1.56V497.69h1.56V495.35h1.56V502.07h1.56V498.82h1.56V493.7h1.56V500.42h1.56V495.49h1.56V496.49h1.56V497.48h1.56V500.66h1.56V497.48h1.56V498.65h1.56V501.5h1.56V498.59h1.56V496.04h1.56V495.41h1.56V495.09h1.56V498.78h1.56V500.75h1.56V496.64h1.56V502.53h1.56V498.49h1.56V498.73h1.56V495.57h1.56V498.27h1.56V496.53h1.56V498.23h1.56V494.94h1.56V497.63h1.56V494.63h1.56V573.8z" fill="#1f77b4"/>
<path d="M33.7 573.8V533.71h1.56V533.71h1.56V546.72h1.56V531.66h1.56V546.72h1.56V546.72h1.56V529.85h1.56V538.88h1.56V533.71h1.56V538.88h1.56V542.31h1.56V563.6h1.56V563.6h1.56V542.31h1.56V533.71h1.56V538.88h1.56V531.66h1.56V542.31h1.56V552.95h1.56V533.71h1.56V529.85h1.56V552.95h1.56V542.31h1.56V531.66h1.56V546.72h1.56V536.08h1.56V552.95h1.56V563.6h1.56V542.31h1.56V563.6h1.56V536.08h1.56V536.08h1.56V542.31h1.56V538.88h1.56V536.08h1.56V546.72h1.56V563.6h1.56V563.6h1.56V529.85h1.56V542.31h1.56V546.72h1.56V536.08h1.56V536.08h1.56V542.31h1.56V546.72h1.56V538.88h1.56V546.72h1.56V536.08h1.56V546.72h1.56V546.72h1.56V533.71h1.56V542.31h1.56V538.88h1.56V536.08h1.56V546.72h1.56V538.88h1.56V573.8h1.56V542.31h1.56V533.71h1.56V546.72h1.56V538.88h1.56V546.72h1.56V542.31h1.56V542.31h1.56V538.88h1.56V529.85h1.56V533.71h1.56V542.31h1.56V546.72h1.56V563.6h1.56V536.08h1.56V573.8h1.56V533.71h1.56V538.88h1.56V552.95h1.56V540.39h1.56V524.94h1.56V534.59h1.56V540.39h1.56V536.53h1.56V526.87h1.56V521.08h1.56V513.36h1.56V517.22h1.56V512.39h1.56V511.43h1.56V511.04h1.56V514.32h1.56V497.92h1.56V501.78h1.56V490.58h1.56V491.16h1.56V505.64h1.56V513.36h1.56V507.57h1.56V501.78h1.56V500.81h1.56V512.39h1.56V495.98h1.56V486.33h1.56V484.02h1.56V505.64h1.56V517.22h1.56V527.84h1.56V529.19h1.56V529.19h1.56V529.77h1.56V530.73h1.56V531.12h1.56V534.59h1.56V553.9h1.56V542.32h1.56V536.53h1.56V542.32h1.56V541.93h1.56V552.95h1.56V563.6h1.56V542.31h1.56V546.72h1.56V529.85h1.56V536.08h1.56V533.71h1.56V546.72h1.56V546.72h1.56V546.72h1.56V546.72h1.56V542.31h1.56V546.72h1.56V573.8h1.56V563.6h1.56V552.95h1.56V552.95h1.56V546.72h1.56V538.88h1.56V542.31h1.56V552.95h1.56V563.6h1.56V546.72h1.56V546.72h1.56V542.31h1.56V542.31h1.56V563.6h1.56V546.72h1.56V563.6h1.56V552.95h1.56V563.6h1.56V573.8h1.56V546.72h1.56V563.6h1.56V546.72h1.56V552.95h1.56V563.6h1.56V563.6h1.56V552.95h1.56V546.72h1.56V529.85h1.56V552.95h1.56V538.88h1.56V546.72h1.56V563.6h1.56V538.88h1.56V552.95h1.56V563.6h1.56V538.88h1.56V529.85h1.56V542.31h1.56V546.72h1.56V552.95h1.56V552.95h1.56V546.72h1.56V563.6h1.56V542.31h1.56V542.31h1.56V573.8h1.56V542.31h1.56V529.85h1.56V546.72h1.56V538.88h1.56V563.6h1.56V546.72h1.56V563.6h1.56V552.95h1.56V552.95h1.56V533.71h1.56V529.85h1.56V536.08h1.56V563.6h1.56V546.72h1.56V546.72h1.56V552.95h1.56V546.72h1.56V546.72h1.56V552.95h1.56V546.72h1.56V546.72h1.56V529.85h1.56V538.88h1.56V546.72h1.56V538.88h1.56V563.6h1.56V573.8z" fill="#ff7f0e"/>
<rect x="33.9" y="341.8" width="311.4" height="232" fill="none" stroke="#777" stroke-width="1.0"/>
<path d="M31.6 563.6L33.7 563.6M31.6 528.23L33.7 528.23M31.6 492.86L33.7 492.86M31.6 457.49L33.7 457.49M31.6 422.12L33.7 422.12M31.6 386.75L33.7 386.75M31.6 351.38L33.7 351.38" stroke="#555" stroke-width="0.6" fill="none"/>
<path d="M32.3 571.45L33.7 571.45M32.3 569.08L33.7 569.08M32.3 567.03L33.7 567.03M32.3 565.22L33.7 565.22M32.3 552.95L33.7 552.95M32.3 546.72L33.7 546.72M32.3 542.31L33.7 542.31M32.3 538.88L33.7 538.88M32.3 536.08L33.7 536.08M32.3 533.71L33.7 533.71M32.3 531.66L33.7 531.66M32.3 529.85L33.7 529.85M32.3 517.58L33.7 517.58M32.3 511.35L33.7 511.35M32.3 506.94L33.7 506.94M32.3 503.51L33.7 503.51M32.3 500.71L33.7 500.71M32.3 498.34L33.7 498.34M32.3 496.29L33.7 496.29M32.3 494.48L33.7 494.48M32.3 482.21L33.7 482.21M32.3 475.98L33.7 475.98M32.3 471.57L33.7 471.57M32.3 468.14L33.7 468.14M32.3 465.34L33.7 465.34M32.3 462.97L33.7 462.97M32.3 460.92L33.7 460.92M32.3 459.11L33.7 459.11M32.3 446.84L33.7 446.84M32.3 440.61L33.7 440.61M32.3 436.2L33.7 436.2M32.3 432.77L33.7 432.77M32.3 429.97L33.7 429.97M32.3 427.6L33.7 427.6M32.3 425.55L33.7 425.55M32.3 423.74L33.7 423.74M32.3 411.47L33.7 411.47M32.3 405.24L33.7 405.24M32.3 400.83L33.7 400.83M32.3 397.4L33.7 397.4M32.3 394.6L33.7 394.6M32.3 392.23L33.7 392.23M32.3 390.18L33.7 390.18M32.3 388.37L33.7 388.37M32.3 376.1L33.7 376.1M32.3 369.87L33.7 369.87M32.3 365.46L33.7 365.46M32.3 362.03L33.7 362.03M32.3 359.23L33.7 359.23M32.3 356.86L33.7 356.86M32.3 354.81L33.7 354.81M32.3 353L33.7 353" stroke="#888" stroke-width="0.4" fill="none"/>
<text x="33.7" y="585" font-size="9.2" text-anchor="middle">−4</text>
<text x="72.65" y="585" font-size="9.2" text-anchor="middle">−3</text>
<text x="111.6" y="585" font-size="9.2" text-anchor="middle">−2</text>
<text x="150.55" y="585" font-size="9.2" text-anchor="middle">−1</text>
<text x="189.5" y="585" font-size="9.2" text-anchor="middle">0</text>
<text x="228.45" y="585" font-size="9.2" text-anchor="middle">1</text>
<text x="267.4" y="585" font-size="9.2" text-anchor="middle">2</text>
<text x="306.35" y="585" font-size="9.2" text-anchor="middle">3</text>
<text x="345.3" y="585" font-size="9.2" text-anchor="middle">4</text>
<path d="M33.7 573.8L33.7 575.9M72.65 573.8L72.65 575.9M111.6 573.8L111.6 575.9M150.55 573.8L150.55 575.9M189.5 573.8L189.5 575.9M228.45 573.8L228.45 575.9M267.4 573.8L267.4 575.9M306.35 573.8L306.35 575.9M345.3 573.8L345.3 575.9" stroke="#555" stroke-width="0.6" fill="none"/>
<text x="30.4" y="567.3" font-size="9.1" text-anchor="end">10<tspan dy="-3.82" font-size="6.4">0</tspan></text>
<text x="30.4" y="531.93" font-size="9.1" text-anchor="end">10<tspan dy="-3.82" font-size="6.4">1</tspan></text>
<text x="30.4" y="496.56" font-size="9.1" text-anchor="end">10<tspan dy="-3.82" font-size="6.4">2</tspan></text>
<text x="30.4" y="461.19" font-size="9.1" text-anchor="end">10<tspan dy="-3.82" font-size="6.4">3</tspan></text>
<text x="30.4" y="425.82" font-size="9.1" text-anchor="end">10<tspan dy="-3.82" font-size="6.4">4</tspan></text>
<text x="30.4" y="390.45" font-size="9.1" text-anchor="end">10<tspan dy="-3.82" font-size="6.4">5</tspan></text>
<text x="30.4" y="355.08" font-size="9.1" text-anchor="end">10<tspan dy="-3.82" font-size="6.4">6</tspan></text>
<text x="189.5" y="337.8" font-size="13.2" text-anchor="middle">YY</text>
<text x="189.5" y="598" font-size="11.6" text-anchor="middle">Drift Rate (Hz/s)</text>
<text transform="translate(10.3 457.5) rotate(-90)" font-size="11.4" text-anchor="middle">Counts</text>
<text x="174.6" y="623" font-size="15" letter-spacing="0.6" text-anchor="middle" font-family="'Liberation Serif','DejaVu Serif',serif">(b)</text>
<rect x="275.6" y="346.5" width="64.9" height="31" rx="1.8" fill="#fff" fill-opacity="0.8" stroke="#ccc" stroke-opacity="0.8" stroke-width="0.8"/>
<rect x="279.1" y="351.1" width="18.9" height="6.4" fill="#1f77b4"/>
<text x="305.9" y="357.4" font-size="9.4">Hits</text>
<rect x="279.1" y="365" width="18.9" height="6.4" fill="#ff7f0e"/>
<text x="305.9" y="371.3" font-size="9.4">Events</text>
<path d="M412.1 574V352.93h2.96V353.36h2.96V353.79h2.96V354.5h2.96V355.46h2.96V356.41h2.96V357.37h2.96V358.33h2.96V359.28h2.96V360.18h2.96V361.04h2.96V361.9h2.96V362.75h2.96V363.61h2.96V364.46h2.96V365.32h2.96V366.18h2.96V367.05h2.96V368.3h2.96V369.56h2.96V370.81h2.96V372.07h2.96V373.33h2.96V374.58h2.96V375.84h2.96V377.09h2.96V378.19h2.96V379.28h2.96V380.36h2.96V381.45h2.96V382.48h2.96V383.46h2.96V385.3h2.96V387.29h2.96V389.22h2.96V391.02h2.96V392.82h2.96V394.67h2.96V396.54h2.96V398.36h2.96V399.84h2.96V401.32h2.96V402.79h2.96V404.27h2.96V406.12h2.96V408.61h2.96V411.03h2.96V413.94h2.96V417.71h2.96V421.83h2.96V427.6h2.96V433.7h2.96V440.9h2.96V444.1h2.96V450.5h2.96V455.2h2.96V462.6h2.96V463.9h2.96V466.8h2.96V467.7h2.96V471.5h2.96V470.6h2.96V474.7h2.96V478.5h2.96V475.6h2.96V481.1h2.96V479.1h2.96V487h2.96V488.3h2.96V487.7h2.96V490.9h2.96V491.2h2.96V492.1h2.96V492.8h2.96V498.2h2.96V493.2h2.96V492.3h2.96V495h2.96V499.3h2.96V507.2h2.96V503.6h2.96V507.9h2.96V503.2h2.96V497.9h2.96V503.2h2.96V503.2h2.96V503.2h2.96V508.6h2.96V513.6h2.96V511.5h2.96V516.5h2.96V519.7h2.96V521.8h2.96V514.1h2.96V524.4h2.96V520.1h2.96V515.5h2.96V550.8h2.96V574h2.96V563.9h2.96V574z" fill="#1f77b4"/>
<path d="M412.1 574V451.7h2.13V458.4h2.13V465.6h2.13V470.4h2.13V475.1h2.13V477.3h2.13V484.6h2.13V479.8h2.13V489.6h2.13V486h2.13V487.9h2.13V495.7h2.13V495.1h2.13V497.6h2.13V496.5h2.13V494h2.13V497.4h2.13V494.9h2.13V495.7h2.13V503.8h2.13V499.4h2.13V504h2.13V499.3h2.13V502.9h2.13V510.2h2.13V510.7h2.13V517.8h2.13V515.6h2.13V521.7h2.13V529h2.13V521.7h2.13V515.6h2.13V529h2.13V532.3h2.13V527.3h2.13V536.8h2.13V529.7h2.13V527.3h2.13V529.7h2.13V550.78h2.13V550.78h2.13V543.1h2.13V550.78h2.13V574h2.13V543.1h2.13V543.1h2.13V563.9h2.13V550.78h2.13V563.9h2.13V563.9h2.13V550.78h2.13V550.78h2.13V574h2.13V543.1h2.13V563.9h2.13V550.78h2.13V563.9h2.13V574h2.13V563.9h2.13V563.9h2.13V563.9h2.13V563.9h2.13V563.9h2.13V550.78h2.13V550.78h2.13V574h2.13V550.78h2.13V563.9h2.13V574z" fill="#ff7f0e"/>
<rect x="623.1" y="563.9" width="2.5" height="10.1" fill="#ff7f0e"/>
<rect x="411.9" y="341.9" width="311.6" height="232.1" fill="none" stroke="#777" stroke-width="1.0"/>
<path d="M409.8 563.9L411.9 563.9M409.8 520.3L411.9 520.3M409.8 476.7L411.9 476.7M409.8 433.1L411.9 433.1M409.8 389.5L411.9 389.5M409.8 345.9L411.9 345.9" stroke="#555" stroke-width="0.6" fill="none"/>
<path d="M410.5 573.57L411.9 573.57M410.5 570.65L411.9 570.65M410.5 568.13L411.9 568.13M410.5 565.9L411.9 565.9M410.5 550.78L411.9 550.78M410.5 543.1L411.9 543.1M410.5 537.65L411.9 537.65M410.5 533.42L411.9 533.42M410.5 529.97L411.9 529.97M410.5 527.05L411.9 527.05M410.5 524.53L411.9 524.53M410.5 522.3L411.9 522.3M410.5 507.18L411.9 507.18M410.5 499.5L411.9 499.5M410.5 494.05L411.9 494.05M410.5 489.82L411.9 489.82M410.5 486.37L411.9 486.37M410.5 483.45L411.9 483.45M410.5 480.93L411.9 480.93M410.5 478.7L411.9 478.7M410.5 463.58L411.9 463.58M410.5 455.9L411.9 455.9M410.5 450.45L411.9 450.45M410.5 446.22L411.9 446.22M410.5 442.77L411.9 442.77M410.5 439.85L411.9 439.85M410.5 437.33L411.9 437.33M410.5 435.1L411.9 435.1M410.5 419.98L411.9 419.98M410.5 412.3L411.9 412.3M410.5 406.85L411.9 406.85M410.5 402.62L411.9 402.62M410.5 399.17L411.9 399.17M410.5 396.25L411.9 396.25M410.5 393.73L411.9 393.73M410.5 391.5L411.9 391.5M410.5 376.38L411.9 376.38M410.5 368.7L411.9 368.7M410.5 363.25L411.9 363.25M410.5 359.02L411.9 359.02M410.5 355.57L411.9 355.57M410.5 352.65L411.9 352.65M410.5 350.13L411.9 350.13M410.5 347.9L411.9 347.9" stroke="#888" stroke-width="0.4" fill="none"/>
<text x="412.1" y="587.3" font-size="9.1" text-anchor="middle">10<tspan dy="-3.82" font-size="6.4">1</tspan></text>
<text x="482.6" y="587.3" font-size="9.1" text-anchor="middle">10<tspan dy="-3.82" font-size="6.4">2</tspan></text>
<text x="553.1" y="587.3" font-size="9.1" text-anchor="middle">10<tspan dy="-3.82" font-size="6.4">3</tspan></text>
<text x="623.6" y="587.3" font-size="9.1" text-anchor="middle">10<tspan dy="-3.82" font-size="6.4">4</tspan></text>
<text x="694.1" y="587.3" font-size="9.1" text-anchor="middle">10<tspan dy="-3.82" font-size="6.4">5</tspan></text>
<path d="M412.1 574L412.1 576.1M482.6 574L482.6 576.1M553.1 574L553.1 576.1M623.6 574L623.6 576.1M694.1 574L694.1 576.1" stroke="#555" stroke-width="0.6" fill="none"/>
<text x="408.6" y="567.6" font-size="9.1" text-anchor="end">10<tspan dy="-3.82" font-size="6.4">0</tspan></text>
<text x="408.6" y="524" font-size="9.1" text-anchor="end">10<tspan dy="-3.82" font-size="6.4">1</tspan></text>
<text x="408.6" y="480.4" font-size="9.1" text-anchor="end">10<tspan dy="-3.82" font-size="6.4">2</tspan></text>
<text x="408.6" y="436.8" font-size="9.1" text-anchor="end">10<tspan dy="-3.82" font-size="6.4">3</tspan></text>
<text x="408.6" y="393.2" font-size="9.1" text-anchor="end">10<tspan dy="-3.82" font-size="6.4">4</tspan></text>
<text x="408.6" y="349.6" font-size="9.1" text-anchor="end">10<tspan dy="-3.82" font-size="6.4">5</tspan></text>
<text x="567.7" y="337.8" font-size="13.2" text-anchor="middle">YY</text>
<text x="567.7" y="598.6" font-size="11.4" text-anchor="middle">S/N</text>
<text transform="translate(388.5 457.5) rotate(-90)" font-size="11.4" text-anchor="middle">Counts</text>
<text x="553.2" y="623" font-size="15" letter-spacing="0.6" text-anchor="middle" font-family="'Liberation Serif','DejaVu Serif',serif">(c)</text>
<rect x="653.7" y="346.4" width="65" height="31" rx="1.8" fill="#fff" fill-opacity="0.8" stroke="#ccc" stroke-opacity="0.8" stroke-width="0.8"/>
<rect x="657.5" y="351.2" width="18.4" height="6.4" fill="#1f77b4"/>
<text x="684" y="357.5" font-size="9.4">Hits</text>
<rect x="657.5" y="365.1" width="18.4" height="6.4" fill="#ff7f0e"/>
<text x="684" y="371.4" font-size="9.4">Events</text>
</g>
</svg>
</body></html>
